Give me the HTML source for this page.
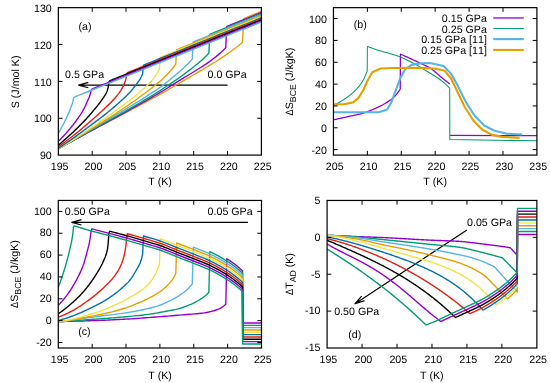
<!DOCTYPE html>
<html><head><meta charset="utf-8"><title>plot</title><style>html,body{margin:0;padding:0;background:#fff}svg{display:block}</style></head><body>
<svg width="550" height="383" viewBox="0 0 550 383" font-family="'Liberation Sans', sans-serif" font-size="10.67" fill="#000" style="font-kerning:none;text-rendering:geometricPrecision">
<rect width="550" height="383" fill="#fff"/>
<defs><clipPath id="ca"><rect x="58.35" y="7.65" width="203.05" height="147.45"/></clipPath><clipPath id="cb"><rect x="333.45" y="7.65" width="203.45" height="147.45"/></clipPath><clipPath id="cc"><rect x="58.30" y="200.45" width="203.20" height="147.55"/></clipPath><clipPath id="cd"><rect x="327.10" y="200.45" width="209.75" height="147.55"/></clipPath></defs>
<path d="M227.56 85.06L78.66 85.06M88.29 87.73L78.66 85.06L88.29 82.39" fill="none" stroke="#000" stroke-width="1.2" stroke-linejoin="round"/>
<g clip-path="url(#ca)">
<polyline points="58.35,148.28 61.47,146.62 64.59,144.97 67.71,143.31 70.83,141.64 73.95,139.98 77.07,138.30 80.19,136.62 83.31,134.93 86.43,133.25 89.55,131.59 92.67,129.94 95.79,128.31 98.91,126.69 102.03,125.07 105.15,123.46 108.28,121.84 111.40,120.21 114.52,118.58 117.64,116.95 120.76,115.31 123.88,113.67 127.00,112.03 130.12,110.37 133.24,108.71 136.36,107.05 139.48,105.38 142.60,103.71 145.72,102.04 148.84,100.39 151.96,98.73 155.08,97.06 158.20,95.36 161.32,93.63 164.44,91.85 167.56,90.02 170.68,88.18 173.80,86.34 176.92,84.52 180.04,82.72 183.16,80.92 186.28,79.12 189.40,77.32 192.52,75.51 195.64,73.70 198.76,71.90 201.88,70.09 205.00,68.25 208.13,66.38 211.25,64.46 214.37,62.50 217.49,60.49 220.61,58.45 223.73,56.36 226.85,54.24 229.97,52.05 233.09,49.79 236.21,47.46 239.33,45.04 242.45,42.53 243.67,18.59 261.40,11.45" fill="none" stroke="#E69F00" stroke-width="1.40" stroke-linejoin="round" />
<polyline points="58.35,148.67 60.78,147.37 63.20,146.06 65.63,144.74 68.05,143.42 70.48,142.10 72.90,140.78 75.33,139.45 77.76,138.11 80.18,136.77 82.61,135.43 85.03,134.09 87.46,132.75 89.89,131.42 92.31,130.10 94.74,128.79 97.16,127.49 99.59,126.20 102.01,124.90 104.44,123.61 106.87,122.30 109.29,120.99 111.72,119.68 114.14,118.36 116.57,117.04 119.00,115.72 121.42,114.39 123.85,113.05 126.27,111.71 128.70,110.37 131.12,109.01 133.55,107.65 135.98,106.27 138.40,104.90 140.83,103.52 143.25,102.14 145.68,100.77 148.10,99.40 150.53,98.02 152.96,96.65 155.38,95.26 157.81,93.86 160.23,92.44 162.66,90.98 165.09,89.49 167.51,87.98 169.94,86.46 172.36,84.94 174.79,83.43 177.21,81.93 179.64,80.44 182.07,78.96 184.49,77.47 186.92,75.99 189.34,74.49 191.77,72.99 194.20,71.49 196.62,70.00 199.05,68.50 201.47,66.98 203.90,65.42 206.32,63.81 208.75,62.12 211.18,60.35 213.60,58.52 216.03,56.63 218.45,54.64 220.88,52.50 223.31,50.15 225.73,47.63 226.75,26.45 227.15,26.28 227.55,26.12 227.95,25.96 228.36,25.80 228.76,25.63 229.16,25.47 229.56,25.31 229.97,25.15 230.37,24.99 230.77,24.82 231.18,24.66 231.58,24.50 231.98,24.34 232.38,24.17 232.79,24.01 233.19,23.85 233.59,23.69 233.99,23.52 234.40,23.36 234.80,23.20 235.20,23.04 235.60,22.88 236.01,22.71 236.41,22.55 236.81,22.39 237.21,22.23 237.62,22.06 238.02,21.90 238.42,21.74 238.83,21.58 239.23,21.42 239.63,21.25 240.03,21.09 240.44,20.93 240.84,20.77 241.24,20.60 241.64,20.44 242.05,20.28 242.45,20.12 242.58,20.08 261.40,12.50" fill="none" stroke="#9400D3" stroke-width="1.40" stroke-linejoin="round" />
<polyline points="58.35,148.77 60.53,147.55 62.71,146.33 64.89,145.10 67.07,143.88 69.25,142.65 71.43,141.42 73.61,140.18 75.79,138.95 77.98,137.70 80.16,136.45 82.34,135.21 84.52,133.96 86.70,132.71 88.88,131.48 91.06,130.25 93.24,129.03 95.42,127.82 97.60,126.61 99.78,125.41 101.96,124.21 104.14,123.01 106.32,121.80 108.50,120.59 110.68,119.38 112.86,118.17 115.05,116.95 117.23,115.74 119.41,114.51 121.59,113.29 123.77,112.05 125.95,110.81 128.13,109.57 130.31,108.32 132.49,107.06 134.67,105.80 136.85,104.53 139.03,103.26 141.21,101.98 143.39,100.70 145.57,99.42 147.75,98.14 149.93,96.85 152.11,95.56 154.30,94.24 156.48,92.90 158.66,91.53 160.84,90.14 163.02,88.71 165.20,87.25 167.38,85.78 169.56,84.31 171.74,82.85 173.92,81.38 176.10,79.91 178.28,78.41 180.46,76.87 182.64,75.28 184.82,73.66 187.00,72.03 189.18,70.38 191.37,68.69 193.55,66.98 195.73,65.22 197.91,63.43 200.09,61.59 202.27,59.68 204.45,57.68 206.63,55.52 208.81,53.19 209.83,34.30 210.66,33.96 211.50,33.62 212.33,33.29 213.17,32.95 214.01,32.61 214.84,32.27 215.68,31.94 216.52,31.60 217.35,31.26 218.19,30.93 219.03,30.59 219.86,30.25 220.70,29.91 221.54,29.58 222.37,29.24 223.21,28.90 224.05,28.57 224.88,28.23 225.72,27.89 226.56,27.55 227.39,27.22 228.23,26.88 229.06,26.54 229.90,26.21 230.74,25.87 231.57,25.53 232.41,25.19 233.25,24.86 234.08,24.52 234.92,24.18 235.76,23.85 236.59,23.51 237.43,23.17 238.27,22.83 239.10,22.50 239.94,22.16 240.78,21.82 241.61,21.49 242.45,21.15 242.58,21.13 261.40,13.55" fill="none" stroke="#009E73" stroke-width="1.40" stroke-linejoin="round" />
<polyline points="58.35,148.87 60.29,147.71 62.23,146.56 64.17,145.40 66.11,144.25 68.05,143.09 69.99,141.93 71.93,140.77 73.87,139.61 75.81,138.45 77.75,137.28 79.69,136.11 81.63,134.94 83.57,133.77 85.51,132.61 87.45,131.45 89.39,130.29 91.33,129.15 93.27,128.01 95.21,126.88 97.16,125.75 99.10,124.63 101.04,123.51 102.98,122.39 104.92,121.28 106.86,120.17 108.80,119.05 110.74,117.93 112.68,116.81 114.62,115.69 116.56,114.57 118.50,113.44 120.44,112.31 122.38,111.17 124.32,110.02 126.26,108.86 128.20,107.70 130.14,106.52 132.08,105.34 134.02,104.15 135.96,102.95 137.90,101.75 139.84,100.54 141.78,99.32 143.72,98.10 145.66,96.88 147.60,95.65 149.54,94.41 151.48,93.17 153.42,91.90 155.36,90.61 157.30,89.29 159.24,87.93 161.18,86.54 163.12,85.10 165.06,83.59 167.00,82.04 168.94,80.47 170.88,78.88 172.83,77.28 174.77,75.66 176.71,74.03 178.65,72.37 180.59,70.69 182.53,68.97 184.47,67.20 186.41,65.36 188.35,63.41 190.29,61.32 192.23,59.12 193.24,42.01 194.50,41.50 195.77,41.00 197.03,40.49 198.29,39.98 199.55,39.47 200.81,38.96 202.07,38.45 203.34,37.94 204.60,37.44 205.86,36.93 207.12,36.42 208.38,35.91 209.64,35.40 210.91,34.89 212.17,34.39 213.43,33.88 214.69,33.37 215.95,32.86 217.21,32.35 218.48,31.84 219.74,31.33 221.00,30.83 222.26,30.32 223.52,29.81 224.79,29.30 226.05,28.79 227.31,28.28 228.57,27.77 229.83,27.27 231.09,26.76 232.36,26.25 233.62,25.74 234.88,25.23 236.14,24.72 237.40,24.22 238.66,23.71 239.93,23.20 241.19,22.69 242.45,22.18 242.58,22.18 261.40,14.60" fill="none" stroke="#56B4E9" stroke-width="1.40" stroke-linejoin="round" />
<polyline points="58.35,148.87 60.05,147.86 61.75,146.84 63.46,145.82 65.16,144.80 66.86,143.77 68.56,142.74 70.26,141.70 71.97,140.67 73.67,139.63 75.37,138.58 77.07,137.53 78.77,136.47 80.47,135.41 82.18,134.35 83.88,133.29 85.58,132.23 87.28,131.17 88.98,130.11 90.69,129.06 92.39,128.01 94.09,126.97 95.79,125.93 97.49,124.89 99.20,123.86 100.90,122.82 102.60,121.78 104.30,120.74 106.00,119.69 107.70,118.63 109.41,117.56 111.11,116.49 112.81,115.41 114.51,114.32 116.21,113.23 117.92,112.12 119.62,111.01 121.32,109.89 123.02,108.76 124.72,107.62 126.43,106.47 128.13,105.30 129.83,104.12 131.53,102.92 133.23,101.71 134.94,100.49 136.64,99.27 138.34,98.03 140.04,96.80 141.74,95.55 143.44,94.30 145.15,93.05 146.85,91.78 148.55,90.49 150.25,89.19 151.95,87.88 153.66,86.54 155.36,85.19 157.06,83.80 158.76,82.38 160.46,80.91 162.17,79.39 163.87,77.79 165.57,76.11 167.27,74.35 168.97,72.53 170.67,70.65 172.38,68.70 174.08,66.53 175.78,63.76 176.66,49.73 178.35,49.05 180.03,48.37 181.72,47.69 183.41,47.01 185.09,46.33 186.78,45.65 188.47,44.97 190.16,44.29 191.84,43.61 193.53,42.93 195.22,42.25 196.90,41.57 198.59,40.89 200.28,40.21 201.96,39.53 203.65,38.85 205.34,38.17 207.02,37.49 208.71,36.81 210.40,36.13 212.08,35.45 213.77,34.77 215.46,34.09 217.15,33.41 218.83,32.73 220.52,32.05 222.21,31.37 223.89,30.69 225.58,30.01 227.27,29.33 228.95,28.65 230.64,27.97 232.33,27.29 234.01,26.61 235.70,25.93 237.39,25.25 239.07,24.57 240.76,23.89 242.45,23.21 242.58,23.23 261.40,15.65" fill="none" stroke="#E69F00" stroke-width="1.40" stroke-linejoin="round" />
<polyline points="58.35,148.77 59.81,147.90 61.28,147.03 62.74,146.14 64.21,145.25 65.67,144.35 67.14,143.45 68.60,142.54 70.07,141.62 71.53,140.69 73.00,139.76 74.46,138.82 75.92,137.87 77.39,136.92 78.85,135.96 80.32,134.99 81.78,134.02 83.25,133.05 84.71,132.07 86.18,131.09 87.64,130.11 89.10,129.13 90.57,128.15 92.03,127.18 93.50,126.20 94.96,125.23 96.43,124.26 97.89,123.29 99.36,122.31 100.82,121.34 102.29,120.35 103.75,119.34 105.21,118.31 106.68,117.28 108.14,116.23 109.61,115.18 111.07,114.12 112.54,113.07 114.00,112.01 115.47,110.94 116.93,109.87 118.39,108.80 119.86,107.71 121.32,106.62 122.79,105.52 124.25,104.41 125.72,103.29 127.18,102.16 128.65,101.02 130.11,99.88 131.58,98.72 133.04,97.55 134.50,96.37 135.97,95.17 137.43,93.96 138.90,92.74 140.36,91.51 141.83,90.27 143.29,89.00 144.76,87.70 146.22,86.34 147.69,84.93 149.15,83.43 150.61,81.85 152.08,80.17 153.54,78.39 155.01,76.46 156.47,74.34 157.94,71.95 159.40,69.05 160.28,57.36 162.39,56.51 164.49,55.66 166.60,54.81 168.71,53.96 170.82,53.12 172.92,52.27 175.03,51.42 177.14,50.57 179.24,49.72 181.35,48.87 183.46,48.02 185.56,47.17 187.67,46.32 189.78,45.47 191.88,44.62 193.99,43.78 196.10,42.93 198.20,42.08 200.31,41.23 202.42,40.38 204.53,39.53 206.63,38.68 208.74,37.83 210.85,36.98 212.95,36.13 215.06,35.28 217.17,34.43 219.27,33.59 221.38,32.74 223.49,31.89 225.59,31.04 227.70,30.19 229.81,29.34 231.91,28.49 234.02,27.64 236.13,26.79 238.23,25.94 240.34,25.09 242.45,24.25 242.58,24.28 261.40,16.70" fill="none" stroke="#F0E442" stroke-width="1.40" stroke-linejoin="round" />
<polyline points="58.35,148.18 59.57,147.40 60.79,146.60 62.01,145.80 63.23,144.99 64.46,144.18 65.68,143.36 66.90,142.53 68.12,141.70 69.34,140.85 70.56,140.01 71.78,139.15 73.00,138.30 74.23,137.43 75.45,136.56 76.67,135.68 77.89,134.79 79.11,133.90 80.33,133.01 81.55,132.11 82.77,131.20 84.00,130.30 85.22,129.39 86.44,128.48 87.66,127.56 88.88,126.65 90.10,125.74 91.32,124.82 92.54,123.91 93.77,123.00 94.99,122.09 96.21,121.18 97.43,120.26 98.65,119.35 99.87,118.44 101.09,117.51 102.31,116.58 103.54,115.63 104.76,114.67 105.98,113.70 107.20,112.71 108.42,111.72 109.64,110.71 110.86,109.70 112.08,108.68 113.31,107.65 114.53,106.61 115.75,105.56 116.97,104.49 118.19,103.41 119.41,102.32 120.63,101.21 121.85,100.09 123.08,98.96 124.30,97.82 125.52,96.67 126.74,95.50 127.96,94.29 129.18,93.04 130.40,91.72 131.62,90.32 132.85,88.83 134.07,87.28 135.29,85.68 136.51,84.06 137.73,82.47 138.95,80.83 140.17,79.00 141.39,76.77 142.62,73.72 143.50,65.16 146.03,64.14 148.57,63.11 151.11,62.09 153.64,61.07 156.18,60.05 158.72,59.02 161.26,58.00 163.79,56.98 166.33,55.96 168.87,54.93 171.41,53.91 173.94,52.89 176.48,51.86 179.02,50.84 181.55,49.82 184.09,48.80 186.63,47.77 189.17,46.75 191.70,45.73 194.24,44.71 196.78,43.68 199.32,42.66 201.85,41.64 204.39,40.62 206.93,39.59 209.46,38.57 212.00,37.55 214.54,36.53 217.08,35.50 219.61,34.48 222.15,33.46 224.69,32.44 227.23,31.41 229.76,30.39 232.30,29.37 234.84,28.35 237.37,27.32 239.91,26.30 242.45,25.28 242.58,25.33 261.40,17.75" fill="none" stroke="#0072B2" stroke-width="1.40" stroke-linejoin="round" />
<polyline points="58.35,146.71 59.34,146.02 60.33,145.32 61.32,144.62 62.31,143.91 63.30,143.19 64.29,142.47 65.29,141.74 66.28,141.01 67.27,140.27 68.26,139.52 69.25,138.78 70.24,138.02 71.23,137.26 72.22,136.50 73.21,135.73 74.20,134.95 75.19,134.16 76.18,133.36 77.17,132.55 78.16,131.74 79.16,130.92 80.15,130.09 81.14,129.26 82.13,128.43 83.12,127.59 84.11,126.74 85.10,125.89 86.09,125.04 87.08,124.19 88.07,123.34 89.06,122.48 90.05,121.63 91.04,120.77 92.03,119.91 93.03,119.04 94.02,118.17 95.01,117.30 96.00,116.42 96.99,115.54 97.98,114.65 98.97,113.75 99.96,112.85 100.95,111.94 101.94,111.02 102.93,110.09 103.92,109.16 104.91,108.22 105.90,107.28 106.90,106.33 107.89,105.38 108.88,104.41 109.87,103.43 110.86,102.42 111.85,101.40 112.84,100.35 113.83,99.27 114.82,98.16 115.81,97.01 116.80,95.83 117.79,94.62 118.78,93.35 119.78,92.00 120.77,90.54 121.76,88.96 122.75,87.22 123.74,85.23 124.73,82.74 125.72,79.63 126.71,74.82 127.39,72.68 130.34,71.49 133.29,70.30 136.24,69.12 139.19,67.93 142.14,66.74 145.09,65.55 148.04,64.36 150.99,63.17 153.94,61.98 156.89,60.79 159.84,59.60 162.79,58.41 165.74,57.23 168.69,56.04 171.64,54.85 174.59,53.66 177.54,52.47 180.49,51.28 183.44,50.09 186.39,48.90 189.34,47.71 192.29,46.52 195.24,45.33 198.19,44.15 201.14,42.96 204.09,41.77 207.05,40.58 210.00,39.39 212.95,38.20 215.90,37.01 218.85,35.82 221.80,34.63 224.75,33.44 227.70,32.26 230.65,31.07 233.60,29.88 236.55,28.69 239.50,27.50 242.45,26.31 242.58,26.38 261.40,18.80" fill="none" stroke="#E51E10" stroke-width="1.40" stroke-linejoin="round" />
<polyline points="58.35,145.18 59.08,144.57 59.82,143.95 60.55,143.33 61.28,142.70 62.01,142.07 62.75,141.43 63.48,140.79 64.21,140.15 64.94,139.50 65.68,138.85 66.41,138.20 67.14,137.54 67.88,136.88 68.61,136.21 69.34,135.54 70.07,134.87 70.81,134.20 71.54,133.52 72.27,132.84 73.00,132.16 73.74,131.47 74.47,130.78 75.20,130.08 75.94,129.38 76.67,128.68 77.40,127.97 78.13,127.25 78.87,126.53 79.60,125.80 80.33,125.06 81.07,124.32 81.80,123.57 82.53,122.82 83.26,122.05 84.00,121.28 84.73,120.50 85.46,119.72 86.19,118.92 86.93,118.12 87.66,117.31 88.39,116.49 89.13,115.66 89.86,114.82 90.59,113.98 91.32,113.13 92.06,112.27 92.79,111.41 93.52,110.53 94.25,109.65 94.99,108.76 95.72,107.87 96.45,106.97 97.19,106.07 97.92,105.16 98.65,104.24 99.38,103.29 100.12,102.33 100.85,101.34 101.58,100.32 102.31,99.27 103.05,98.18 103.78,97.05 104.51,95.92 105.25,94.79 105.98,93.54 106.71,92.06 107.44,90.24 108.18,87.19 108.91,82.19 109.65,80.86 113.06,79.49 116.46,78.12 119.87,76.74 123.27,75.37 126.68,74.00 130.08,72.63 133.49,71.26 136.89,69.88 140.30,68.51 143.70,67.14 147.11,65.77 150.51,64.39 153.92,63.02 157.32,61.65 160.73,60.28 164.13,58.90 167.54,57.53 170.94,56.16 174.35,54.79 177.75,53.42 181.16,52.04 184.56,50.67 187.97,49.30 191.37,47.93 194.78,46.55 198.18,45.18 201.59,43.81 204.99,42.44 208.40,41.07 211.80,39.69 215.21,38.32 218.61,36.95 222.02,35.58 225.42,34.20 228.83,32.83 232.23,31.46 235.64,30.09 239.04,28.71 242.45,27.34 242.58,27.43 261.40,19.85" fill="none" stroke="#000000" stroke-width="1.40" stroke-linejoin="round" />
<polyline points="58.35,141.30 58.82,140.84 59.30,140.38 59.77,139.92 60.25,139.44 60.72,138.97 61.20,138.48 61.67,138.00 62.15,137.50 62.62,137.01 63.10,136.50 63.57,136.00 64.05,135.49 64.52,134.97 65.00,134.45 65.47,133.93 65.95,133.40 66.42,132.87 66.90,132.33 67.37,131.79 67.85,131.24 68.32,130.69 68.79,130.13 69.27,129.56 69.74,128.99 70.22,128.42 70.69,127.84 71.17,127.25 71.64,126.66 72.12,126.06 72.59,125.46 73.07,124.85 73.54,124.23 74.02,123.61 74.49,122.99 74.97,122.36 75.44,121.72 75.92,121.08 76.39,120.43 76.87,119.78 77.34,119.13 77.82,118.47 78.29,117.80 78.76,117.12 79.24,116.43 79.71,115.73 80.19,115.02 80.66,114.29 81.14,113.55 81.61,112.79 82.09,112.01 82.56,111.21 83.04,110.39 83.51,109.54 83.99,108.63 84.46,107.69 84.94,106.71 85.41,105.70 85.89,104.67 86.36,103.62 86.84,102.56 87.31,101.50 87.79,100.46 88.26,99.41 88.73,98.32 89.21,97.14 89.68,95.84 90.16,94.34 90.63,92.50 91.11,90.46 91.92,89.04 95.78,87.49 99.64,85.93 103.50,84.37 107.36,82.82 111.22,81.26 115.08,79.71 118.94,78.15 122.80,76.60 126.66,75.04 130.52,73.49 134.38,71.93 138.24,70.37 142.10,68.82 145.96,67.26 149.82,65.71 153.68,64.15 157.54,62.60 161.40,61.04 165.25,59.49 169.11,57.93 172.97,56.37 176.83,54.82 180.69,53.26 184.55,51.71 188.41,50.15 192.27,48.60 196.13,47.04 199.99,45.49 203.85,43.93 207.71,42.37 211.57,40.82 215.43,39.26 219.29,37.71 223.15,36.15 227.01,34.60 230.87,33.04 234.73,31.49 238.59,29.93 242.45,28.37 242.58,28.49 261.40,20.90" fill="none" stroke="#9400D3" stroke-width="1.40" stroke-linejoin="round" />
<polyline points="58.35,133.29 58.57,132.92 58.79,132.54 59.01,132.16 59.23,131.78 59.45,131.39 59.67,131.01 59.89,130.62 60.11,130.23 60.33,129.83 60.55,129.43 60.77,129.04 60.99,128.64 61.21,128.23 61.43,127.83 61.65,127.42 61.87,127.01 62.09,126.60 62.31,126.18 62.52,125.77 62.74,125.35 62.96,124.93 63.18,124.51 63.40,124.09 63.62,123.66 63.84,123.23 64.06,122.80 64.28,122.37 64.50,121.93 64.72,121.50 64.94,121.05 65.16,120.61 65.38,120.16 65.60,119.71 65.82,119.25 66.04,118.79 66.26,118.33 66.48,117.86 66.70,117.39 66.92,116.91 67.14,116.43 67.36,115.95 67.58,115.46 67.80,114.97 68.02,114.47 68.24,113.97 68.46,113.47 68.68,112.96 68.90,112.45 69.12,111.93 69.34,111.40 69.56,110.87 69.78,110.33 70.00,109.78 70.22,109.23 70.43,108.67 70.65,108.10 70.87,107.53 71.09,106.96 71.31,106.39 71.53,105.81 71.75,105.20 71.97,104.56 72.19,103.89 72.41,103.16 72.63,102.37 72.85,101.46 73.07,100.44 73.29,99.34 73.51,98.19 74.26,97.19 78.57,95.45 82.88,93.72 87.19,91.98 91.51,90.24 95.82,88.50 100.13,86.76 104.44,85.03 108.76,83.29 113.07,81.55 117.38,79.81 121.69,78.07 126.01,76.34 130.32,74.60 134.63,72.86 138.95,71.12 143.26,69.38 147.57,67.64 151.88,65.91 156.20,64.17 160.51,62.43 164.82,60.69 169.13,58.95 173.45,57.22 177.76,55.48 182.07,53.74 186.38,52.00 190.70,50.26 195.01,48.53 199.32,46.79 203.63,45.05 207.95,43.31 212.26,41.57 216.57,39.83 220.89,38.10 225.20,36.36 229.51,34.62 233.82,32.88 238.14,31.14 242.45,29.41 242.58,29.54 261.40,21.95" fill="none" stroke="#56B4E9" stroke-width="1.40" stroke-linejoin="round" />
</g>
<text x="59.65" y="169.65" text-anchor="middle">195</text>
<path d="M92.19 155.10V150.90M92.19 7.65V11.85" stroke="#000" stroke-width="1"/>
<text x="93.49" y="169.65" text-anchor="middle">200</text>
<path d="M126.03 155.10V150.90M126.03 7.65V11.85" stroke="#000" stroke-width="1"/>
<text x="127.33" y="169.65" text-anchor="middle">205</text>
<path d="M159.88 155.10V150.90M159.88 7.65V11.85" stroke="#000" stroke-width="1"/>
<text x="161.18" y="169.65" text-anchor="middle">210</text>
<path d="M193.72 155.10V150.90M193.72 7.65V11.85" stroke="#000" stroke-width="1"/>
<text x="195.02" y="169.65" text-anchor="middle">215</text>
<path d="M227.56 155.10V150.90M227.56 7.65V11.85" stroke="#000" stroke-width="1"/>
<text x="228.86" y="169.65" text-anchor="middle">220</text>
<text x="262.70" y="169.65" text-anchor="middle">225</text>
<text x="51.75" y="159.25" text-anchor="end">90</text>
<path d="M58.35 118.24H62.55M261.40 118.24H257.20" stroke="#000" stroke-width="1"/>
<text x="51.75" y="122.39" text-anchor="end">100</text>
<path d="M58.35 81.38H62.55M261.40 81.38H257.20" stroke="#000" stroke-width="1"/>
<text x="51.75" y="85.53" text-anchor="end">110</text>
<path d="M58.35 44.51H62.55M261.40 44.51H257.20" stroke="#000" stroke-width="1"/>
<text x="51.75" y="48.66" text-anchor="end">120</text>
<text x="51.75" y="11.80" text-anchor="end">130</text>
<rect x="58.35" y="7.65" width="203.05" height="147.45" fill="none" stroke="#000" stroke-width="1.2"/>
<text x="78.5" y="29.9">(a)</text>
<text x="65" y="78.1">0.5 GPa</text>
<text x="207.5" y="78.3">0.0 GPa</text>
<text transform="translate(18.6,81.9) rotate(-90)" text-anchor="middle">S (J/mol K)</text>
<text x="160" y="185.4" text-anchor="middle">T (K)</text>
<g clip-path="url(#cb)">
<polyline points="333.45,119.82 334.30,119.64 335.14,119.47 335.99,119.29 336.83,119.11 337.68,118.93 338.52,118.74 339.37,118.56 340.21,118.38 341.06,118.19 341.91,118.01 342.75,117.82 343.60,117.64 344.44,117.45 345.29,117.26 346.13,117.07 346.98,116.88 347.82,116.69 348.67,116.51 349.52,116.32 350.36,116.14 351.21,115.96 352.05,115.78 352.90,115.60 353.74,115.42 354.59,115.23 355.43,115.05 356.28,114.86 357.13,114.66 357.97,114.46 358.82,114.26 359.66,114.05 360.51,113.83 361.35,113.60 362.20,113.37 363.04,113.12 363.89,112.87 364.74,112.60 365.58,112.32 366.43,112.04 367.27,111.74 368.12,111.43 368.96,111.11 369.81,110.78 370.65,110.44 371.50,110.10 372.35,109.74 373.19,109.38 374.04,109.01 374.88,108.64 375.73,108.25 376.57,107.86 377.42,107.47 378.26,107.07 379.11,106.67 379.96,106.26 380.80,105.84 381.65,105.41 382.49,104.95 383.34,104.47 384.18,103.97 385.03,103.46 385.87,102.94 386.72,102.43 387.57,101.92 388.41,101.40 389.26,100.87 390.10,100.31 390.95,99.72 391.79,99.08 392.64,98.40 393.48,97.65 394.33,96.82 395.18,95.89 396.02,94.89 396.87,93.82 397.71,92.70 398.56,91.53 399.40,90.32 400.25,89.02 400.45,54.18 401.08,54.44 401.70,54.71 402.32,54.98 402.95,55.25 403.57,55.52 404.19,55.79 404.82,56.07 405.44,56.34 406.06,56.62 406.69,56.89 407.31,57.17 407.93,57.45 408.55,57.73 409.18,58.01 409.80,58.29 410.42,58.58 411.05,58.86 411.67,59.15 412.29,59.43 412.92,59.72 413.54,60.01 414.16,60.29 414.79,60.58 415.41,60.87 416.03,61.16 416.66,61.46 417.28,61.75 417.90,62.04 418.53,62.33 419.15,62.63 419.77,62.92 420.40,63.22 421.02,63.52 421.64,63.81 422.27,64.11 422.89,64.41 423.51,64.70 424.14,64.99 424.76,65.28 425.38,65.56 426.01,65.84 426.63,66.14 427.25,66.43 427.87,66.74 428.50,67.07 429.12,67.41 429.74,67.77 430.37,68.16 430.99,68.59 431.61,69.06 432.24,69.55 432.86,70.06 433.48,70.58 434.11,71.10 434.73,71.62 435.35,72.13 435.98,72.66 436.60,73.19 437.22,73.72 437.85,74.26 438.47,74.81 439.09,75.35 439.72,75.89 440.34,76.43 440.96,76.96 441.59,77.48 442.21,78.00 442.83,78.52 443.46,79.04 444.08,79.55 444.70,80.07 445.33,80.58 445.95,81.09 446.57,81.60 447.19,82.10 447.82,82.61 448.44,83.11 449.06,83.61 449.69,84.11" fill="none" stroke="#9400D3" stroke-width="1.30" stroke-linejoin="round" />
<polyline points="450.09,135.33 536.90,135.66" fill="none" stroke="#9400D3" stroke-width="1.30" stroke-linejoin="round" />
<polyline points="333.45,105.40 333.88,105.20 334.31,104.99 334.73,104.77 335.16,104.56 335.59,104.34 336.02,104.11 336.44,103.88 336.87,103.65 337.30,103.42 337.73,103.18 338.15,102.94 338.58,102.70 339.01,102.45 339.44,102.20 339.86,101.95 340.29,101.69 340.72,101.43 341.15,101.17 341.57,100.91 342.00,100.64 342.43,100.38 342.86,100.11 343.28,99.83 343.71,99.56 344.14,99.28 344.57,99.00 344.99,98.72 345.42,98.44 345.85,98.15 346.28,97.85 346.70,97.56 347.13,97.26 347.56,96.95 347.99,96.64 348.41,96.33 348.84,96.01 349.27,95.69 349.70,95.36 350.12,95.02 350.55,94.68 350.98,94.34 351.41,93.98 351.83,93.63 352.26,93.26 352.69,92.89 353.12,92.50 353.54,92.11 353.97,91.72 354.40,91.31 354.83,90.89 355.25,90.47 355.68,90.03 356.11,89.59 356.54,89.13 356.96,88.66 357.39,88.18 357.82,87.69 358.25,87.19 358.67,86.68 359.10,86.15 359.53,85.61 359.96,85.05 360.38,84.48 360.81,83.89 361.24,83.27 361.67,82.63 362.09,81.97 362.52,81.27 362.95,80.55 363.38,79.80 363.80,78.98 364.23,78.09 364.66,77.15 365.09,76.17 365.51,75.16 365.94,74.14 366.37,73.12 366.80,72.08 367.22,71.00 367.36,46.42 368.40,46.81 369.44,47.20 370.48,47.58 371.53,47.96 372.57,48.33 373.61,48.70 374.65,49.07 375.70,49.42 376.74,49.77 377.78,50.11 378.82,50.44 379.86,50.76 380.91,51.07 381.95,51.37 382.99,51.66 384.03,51.96 385.07,52.24 386.12,52.53 387.16,52.82 388.20,53.10 389.24,53.39 390.29,53.69 391.33,53.99 392.37,54.29 393.41,54.61 394.45,54.93 395.50,55.26 396.54,55.61 397.58,55.97 398.62,56.35 399.66,56.74 400.71,57.15 401.75,57.57 402.79,58.01 403.83,58.47 404.88,58.93 405.92,59.41 406.96,59.91 408.00,60.41 409.04,60.93 410.09,61.45 411.13,61.98 412.17,62.53 413.21,63.08 414.25,63.64 415.30,64.20 416.34,64.77 417.38,65.35 418.42,65.95 419.47,66.59 420.51,67.24 421.55,67.92 422.59,68.59 423.63,69.26 424.68,69.92 425.72,70.56 426.76,71.19 427.80,71.81 428.84,72.43 429.89,73.05 430.93,73.67 431.97,74.30 433.01,74.94 434.06,75.59 435.10,76.26 436.14,76.93 437.18,77.61 438.22,78.30 439.27,79.02 440.31,79.77 441.35,80.56 442.39,81.39 443.43,82.25 444.48,83.15 445.52,84.08 446.56,85.05 447.60,86.05 448.65,87.08 449.69,88.15 449.82,139.59 536.90,140.79" fill="none" stroke="#009E73" stroke-width="1.05" stroke-linejoin="round" />
<polyline points="333.45,112.18 378.75,112.18 387.03,109.45 391.50,102.13 396.11,89.35 400.59,77.44 405.34,69.25 411.44,64.88 419.98,63.35 429.75,63.03 443.58,66.08 451.04,73.62 457.22,84.76 465.90,102.13 474.64,115.78 484.55,125.72 494.51,130.74 506.93,133.69 522.32,134.57" fill="none" stroke="#56B4E9" stroke-width="2.10" stroke-linejoin="round" />
<polyline points="333.45,104.31 343.96,104.31 353.12,102.35 358.54,97.87 363.29,90.22 367.77,80.17 372.31,72.31 380.58,68.49 393.13,68.05 419.98,67.83 434.90,68.49 444.67,70.78 451.04,78.43 457.22,91.31 464.74,107.04 473.49,120.80 482.17,129.54 492.14,134.89 502.04,136.86 519.61,137.84" fill="none" stroke="#E69F00" stroke-width="2.10" stroke-linejoin="round" />
</g>
<text x="334.75" y="169.65" text-anchor="middle">205</text>
<path d="M367.36 155.10V150.90M367.36 7.65V11.85" stroke="#000" stroke-width="1"/>
<text x="368.66" y="169.65" text-anchor="middle">210</text>
<path d="M401.27 155.10V150.90M401.27 7.65V11.85" stroke="#000" stroke-width="1"/>
<text x="402.57" y="169.65" text-anchor="middle">215</text>
<path d="M435.17 155.10V150.90M435.17 7.65V11.85" stroke="#000" stroke-width="1"/>
<text x="436.47" y="169.65" text-anchor="middle">220</text>
<path d="M469.08 155.10V150.90M469.08 7.65V11.85" stroke="#000" stroke-width="1"/>
<text x="470.38" y="169.65" text-anchor="middle">225</text>
<path d="M502.99 155.10V150.90M502.99 7.65V11.85" stroke="#000" stroke-width="1"/>
<text x="504.29" y="169.65" text-anchor="middle">230</text>
<text x="538.20" y="169.65" text-anchor="middle">235</text>
<path d="M333.45 149.64H337.65M536.90 149.64H532.70" stroke="#000" stroke-width="1"/>
<text x="326.85" y="153.64" text-anchor="end">-20</text>
<path d="M333.45 127.79H337.65M536.90 127.79H532.70" stroke="#000" stroke-width="1"/>
<text x="326.85" y="131.79" text-anchor="end">0</text>
<path d="M333.45 105.95H337.65M536.90 105.95H532.70" stroke="#000" stroke-width="1"/>
<text x="326.85" y="109.95" text-anchor="end">20</text>
<path d="M333.45 84.11H337.65M536.90 84.11H532.70" stroke="#000" stroke-width="1"/>
<text x="326.85" y="88.11" text-anchor="end">40</text>
<path d="M333.45 62.26H337.65M536.90 62.26H532.70" stroke="#000" stroke-width="1"/>
<text x="326.85" y="66.26" text-anchor="end">60</text>
<path d="M333.45 40.42H337.65M536.90 40.42H532.70" stroke="#000" stroke-width="1"/>
<text x="326.85" y="44.42" text-anchor="end">80</text>
<path d="M333.45 18.57H337.65M536.90 18.57H532.70" stroke="#000" stroke-width="1"/>
<text x="326.85" y="22.57" text-anchor="end">100</text>
<rect x="333.45" y="7.65" width="203.45" height="147.45" fill="none" stroke="#000" stroke-width="1.2"/>
<text x="353.7" y="28.4">(b)</text>
<text x="486.9" y="21.80" text-anchor="end">0.15 GPa</text>
<path d="M493.2 17.95H523.8" stroke="#9400D3" stroke-width="1.30"/>
<text x="486.9" y="32.50" text-anchor="end">0.25 GPa</text>
<path d="M493.2 28.50H523.8" stroke="#009E73" stroke-width="1.05"/>
<text x="486.9" y="43.20" text-anchor="end">0.15 GPa [11]</text>
<path d="M493.2 39.10H523.8" stroke="#56B4E9" stroke-width="2.10"/>
<text x="486.9" y="53.90" text-anchor="end">0.25 GPa [11]</text>
<path d="M493.2 49.95H523.8" stroke="#E69F00" stroke-width="2.10"/>
<text transform="translate(293.45,115.40) rotate(-90)"><tspan textLength="6.1" lengthAdjust="spacingAndGlyphs">Δ</tspan>S<tspan font-size="8.8" dy="3">BCE</tspan><tspan dy="-3" dx="-0.2"> (J/kgK)</tspan></text>
<text x="435.2" y="185.4" text-anchor="middle">T (K)</text>
<path d="M247.95 222.31L71.85 222.31M81.48 224.98L71.85 222.31L81.48 219.64" fill="none" stroke="#000" stroke-width="1.2" stroke-linejoin="round"/>
<g clip-path="url(#cc)">
<polyline points="58.30,321.55 60.73,321.50 63.16,321.45 65.58,321.40 68.01,321.34 70.44,321.28 72.87,321.22 75.29,321.15 77.72,321.08 80.15,321.01 82.58,320.94 85.00,320.86 87.43,320.78 89.86,320.70 92.29,320.62 94.71,320.53 97.14,320.45 99.57,320.36 102.00,320.27 104.42,320.18 106.85,320.08 109.28,319.98 111.71,319.87 114.13,319.76 116.56,319.64 118.99,319.52 121.42,319.40 123.85,319.27 126.27,319.13 128.70,318.99 131.13,318.84 133.56,318.68 135.98,318.51 138.41,318.33 140.84,318.15 143.27,317.97 145.69,317.79 148.12,317.60 150.55,317.42 152.98,317.23 155.40,317.05 157.83,316.86 160.26,316.67 162.69,316.47 165.11,316.27 167.54,316.08 169.97,315.88 172.40,315.68 174.82,315.48 177.25,315.29 179.68,315.09 182.11,314.90 184.54,314.71 186.96,314.52 189.39,314.31 191.82,314.10 194.25,313.90 196.67,313.70 199.10,313.48 201.53,313.22 203.96,312.92 206.38,312.55 208.81,312.04 211.24,311.43 213.67,310.74 216.09,309.99 218.52,309.07 220.95,307.85 223.38,306.23 225.80,304.28 226.82,258.72 227.22,258.97 227.63,259.23 228.03,259.50 228.43,259.76 228.84,260.03 229.24,260.30 229.64,260.57 230.04,260.85 230.45,261.13 230.85,261.41 231.25,261.69 231.66,261.98 232.06,262.27 232.46,262.56 232.86,262.86 233.27,263.15 233.67,263.45 234.07,263.75 234.48,264.06 234.88,264.37 235.28,264.67 235.68,264.98 236.09,265.30 236.49,265.62 236.89,265.94 237.30,266.27 237.70,266.60 238.10,266.93 238.51,267.27 238.91,267.61 239.31,267.96 239.71,268.31 240.12,268.66 240.52,269.02 240.92,269.38 241.33,269.74 241.73,270.10 242.13,270.47 242.53,270.84 242.67,323.00 261.50,323.00" fill="none" stroke="#9400D3" stroke-width="1.40" stroke-linejoin="round" />
<polyline points="58.30,321.77 60.48,321.62 62.66,321.48 64.85,321.33 67.03,321.18 69.21,321.03 71.39,320.88 73.58,320.73 75.76,320.58 77.94,320.42 80.12,320.27 82.30,320.11 84.49,319.96 86.67,319.80 88.85,319.64 91.03,319.48 93.22,319.32 95.40,319.15 97.58,318.99 99.76,318.83 101.94,318.66 104.13,318.50 106.31,318.34 108.49,318.18 110.67,318.01 112.85,317.85 115.04,317.68 117.22,317.50 119.40,317.32 121.58,317.14 123.77,316.95 125.95,316.75 128.13,316.54 130.31,316.34 132.49,316.12 134.68,315.90 136.86,315.67 139.04,315.44 141.22,315.19 143.41,314.94 145.59,314.67 147.77,314.40 149.95,314.11 152.13,313.81 154.32,313.48 156.50,313.11 158.68,312.72 160.86,312.30 163.05,311.87 165.23,311.44 167.41,311.01 169.59,310.60 171.77,310.20 173.96,309.80 176.14,309.35 178.32,308.84 180.50,308.21 182.68,307.47 184.87,306.66 187.05,305.83 189.23,304.95 191.41,304.02 193.60,303.02 195.78,301.93 197.96,300.74 200.14,299.45 202.32,298.02 204.51,296.43 206.69,294.52 208.87,292.26 209.89,251.64 210.72,252.04 211.56,252.44 212.40,252.86 213.24,253.28 214.07,253.71 214.91,254.14 215.75,254.58 216.58,255.03 217.42,255.48 218.26,255.94 219.10,256.41 219.93,256.88 220.77,257.36 221.61,257.85 222.44,258.34 223.28,258.84 224.12,259.34 224.96,259.85 225.79,260.37 226.63,260.89 227.47,261.43 228.30,261.97 229.14,262.53 229.98,263.10 230.82,263.68 231.65,264.27 232.49,264.88 233.33,265.49 234.16,266.12 235.00,266.75 235.84,267.40 236.67,268.06 237.51,268.74 238.35,269.44 239.19,270.15 240.02,270.87 240.86,271.62 241.70,272.37 242.53,273.13 242.67,325.33 261.50,325.33" fill="none" stroke="#009E73" stroke-width="1.40" stroke-linejoin="round" />
<polyline points="58.30,321.99 60.24,321.71 62.18,321.43 64.13,321.15 66.07,320.87 68.01,320.59 69.95,320.32 71.89,320.04 73.83,319.77 75.78,319.50 77.72,319.22 79.66,318.95 81.60,318.68 83.54,318.42 85.48,318.15 87.43,317.88 89.37,317.62 91.31,317.35 93.25,317.09 95.19,316.83 97.13,316.56 99.08,316.30 101.02,316.05 102.96,315.80 104.90,315.55 106.84,315.31 108.78,315.08 110.73,314.85 112.67,314.61 114.61,314.37 116.55,314.13 118.49,313.88 120.43,313.62 122.38,313.35 124.32,313.07 126.26,312.77 128.20,312.46 130.14,312.14 132.08,311.81 134.03,311.46 135.97,311.11 137.91,310.74 139.85,310.35 141.79,309.96 143.73,309.55 145.68,309.12 147.62,308.68 149.56,308.22 151.50,307.74 153.44,307.22 155.38,306.67 157.33,306.07 159.27,305.43 161.21,304.75 163.15,303.98 165.09,303.12 167.03,302.21 168.98,301.24 170.92,300.25 172.86,299.24 174.80,298.17 176.74,297.05 178.68,295.87 180.63,294.61 182.57,293.28 184.51,291.84 186.45,290.23 188.39,288.38 190.33,286.23 192.28,283.84 193.29,247.12 194.56,247.61 195.82,248.11 197.08,248.60 198.34,249.09 199.61,249.58 200.87,250.07 202.13,250.58 203.39,251.09 204.66,251.61 205.92,252.14 207.18,252.69 208.44,253.26 209.71,253.85 210.97,254.45 212.23,255.07 213.49,255.71 214.76,256.36 216.02,257.02 217.28,257.70 218.54,258.40 219.81,259.11 221.07,259.83 222.33,260.57 223.60,261.32 224.86,262.09 226.12,262.87 227.38,263.67 228.65,264.49 229.91,265.35 231.17,266.23 232.43,267.13 233.70,268.06 234.96,269.02 236.22,269.99 237.48,271.01 238.75,272.07 240.01,273.16 241.27,274.28 242.53,275.43 242.67,327.66 261.50,327.66" fill="none" stroke="#56B4E9" stroke-width="1.40" stroke-linejoin="round" />
<polyline points="58.30,321.99 60.00,321.74 61.71,321.49 63.41,321.23 65.11,320.96 66.82,320.69 68.52,320.42 70.22,320.13 71.93,319.85 73.63,319.56 75.33,319.26 77.03,318.96 78.74,318.65 80.44,318.34 82.14,318.03 83.85,317.71 85.55,317.39 87.25,317.06 88.96,316.73 90.66,316.40 92.36,316.07 94.07,315.73 95.77,315.39 97.47,315.05 99.18,314.70 100.88,314.35 102.58,314.00 104.29,313.63 105.99,313.26 107.69,312.88 109.39,312.48 111.10,312.07 112.80,311.65 114.50,311.20 116.21,310.75 117.91,310.28 119.61,309.79 121.32,309.28 123.02,308.76 124.72,308.21 126.43,307.65 128.13,307.05 129.83,306.43 131.54,305.78 133.24,305.11 134.94,304.42 136.64,303.71 138.35,302.99 140.05,302.27 141.75,301.53 143.46,300.77 145.16,299.99 146.86,299.18 148.57,298.33 150.27,297.44 151.97,296.53 153.68,295.59 155.38,294.62 157.08,293.59 158.79,292.50 160.49,291.33 162.19,290.08 163.90,288.69 165.60,287.14 167.30,285.45 169.00,283.62 170.71,281.68 172.41,279.58 174.11,276.97 175.82,273.02 176.70,242.96 178.39,243.62 180.07,244.27 181.76,244.93 183.45,245.58 185.14,246.23 186.83,246.88 188.51,247.53 190.20,248.19 191.89,248.85 193.58,249.52 195.27,250.19 196.96,250.84 198.64,251.50 200.33,252.16 202.02,252.83 203.71,253.51 205.40,254.22 207.08,254.95 208.77,255.71 210.46,256.50 212.15,257.32 213.84,258.18 215.52,259.05 217.21,259.96 218.90,260.89 220.59,261.85 222.28,262.83 223.97,263.84 225.65,264.87 227.34,265.94 229.03,267.05 230.72,268.20 232.41,269.41 234.09,270.66 235.78,271.95 237.47,273.30 239.16,274.71 240.85,276.19 242.53,277.72 242.67,329.99 261.50,329.99" fill="none" stroke="#E69F00" stroke-width="1.40" stroke-linejoin="round" />
<polyline points="58.30,321.77 59.77,321.57 61.23,321.35 62.70,321.11 64.16,320.86 65.63,320.59 67.09,320.31 68.56,320.02 70.02,319.71 71.49,319.39 72.96,319.05 74.42,318.71 75.89,318.35 77.35,317.98 78.82,317.60 80.28,317.21 81.75,316.81 83.22,316.40 84.68,315.99 86.15,315.56 87.61,315.13 89.08,314.69 90.54,314.24 92.01,313.79 93.47,313.33 94.94,312.87 96.41,312.40 97.87,311.93 99.34,311.46 100.80,310.97 102.27,310.45 103.73,309.89 105.20,309.30 106.66,308.69 108.13,308.06 109.60,307.42 111.06,306.77 112.53,306.11 113.99,305.46 115.46,304.80 116.92,304.12 118.39,303.43 119.85,302.73 121.32,302.01 122.79,301.27 124.25,300.52 125.72,299.75 127.18,298.96 128.65,298.15 130.11,297.33 131.58,296.48 133.05,295.62 134.51,294.73 135.98,293.81 137.44,292.87 138.91,291.89 140.37,290.90 141.84,289.87 143.30,288.80 144.77,287.63 146.24,286.36 147.70,284.93 149.17,283.34 150.63,281.55 152.10,279.55 153.56,277.32 155.03,274.77 156.49,271.84 157.96,268.30 159.43,263.62 160.31,238.73 162.41,239.48 164.52,240.28 166.63,241.13 168.74,241.99 170.85,242.87 172.96,243.75 175.07,244.61 177.17,245.44 179.28,246.26 181.39,247.08 183.50,247.89 185.61,248.70 187.72,249.52 189.82,250.34 191.93,251.17 194.04,252.00 196.15,252.82 198.26,253.64 200.37,254.47 202.47,255.30 204.58,256.17 206.69,257.07 208.80,258.01 210.91,259.01 213.02,260.05 215.13,261.14 217.23,262.27 219.34,263.44 221.45,264.64 223.56,265.89 225.67,267.18 227.78,268.51 229.88,269.92 231.99,271.40 234.10,272.96 236.21,274.58 238.32,276.29 240.43,278.12 242.53,280.02 242.67,332.32 261.50,332.32" fill="none" stroke="#F0E442" stroke-width="1.40" stroke-linejoin="round" />
<polyline points="58.30,320.46 59.52,320.15 60.74,319.83 61.97,319.49 63.19,319.13 64.41,318.77 65.63,318.38 66.86,317.99 68.08,317.58 69.30,317.15 70.52,316.72 71.74,316.27 72.97,315.81 74.19,315.34 75.41,314.85 76.63,314.36 77.85,313.86 79.08,313.34 80.30,312.82 81.52,312.28 82.74,311.74 83.97,311.19 85.19,310.63 86.41,310.06 87.63,309.49 88.85,308.91 90.08,308.32 91.30,307.73 92.52,307.13 93.74,306.52 94.96,305.91 96.19,305.30 97.41,304.68 98.63,304.05 99.85,303.43 101.08,302.78 102.30,302.11 103.52,301.40 104.74,300.68 105.96,299.92 107.19,299.14 108.41,298.34 109.63,297.53 110.85,296.69 112.07,295.84 113.30,294.97 114.52,294.08 115.74,293.15 116.96,292.20 118.19,291.22 119.41,290.21 120.63,289.18 121.85,288.11 123.07,287.02 124.30,285.91 125.52,284.79 126.74,283.62 127.96,282.37 129.18,281.03 130.41,279.54 131.63,277.86 132.85,276.00 134.07,274.00 135.30,271.90 136.52,269.75 137.74,267.66 138.96,265.46 140.18,262.85 141.41,259.33 142.63,254.01 143.51,236.02 146.05,236.75 148.59,237.47 151.13,238.19 153.67,238.93 156.20,239.69 158.74,240.50 161.28,241.36 163.82,242.31 166.36,243.31 168.90,244.36 171.44,245.41 173.98,246.46 176.52,247.48 179.06,248.47 181.60,249.45 184.13,250.43 186.67,251.41 189.21,252.39 191.75,253.39 194.29,254.40 196.83,255.38 199.37,256.37 201.91,257.37 204.45,258.41 206.99,259.49 209.53,260.65 212.07,261.87 214.60,263.16 217.14,264.51 219.68,265.92 222.22,267.39 224.76,268.92 227.30,270.50 229.84,272.19 232.38,273.98 234.92,275.87 237.46,277.87 240.00,280.03 242.53,282.31 242.67,334.64 261.50,334.64" fill="none" stroke="#0072B2" stroke-width="1.40" stroke-linejoin="round" />
<polyline points="58.30,317.18 59.29,316.81 60.28,316.43 61.27,316.03 62.27,315.63 63.26,315.20 64.25,314.77 65.24,314.32 66.23,313.86 67.22,313.39 68.21,312.91 69.21,312.42 70.20,311.92 71.19,311.40 72.18,310.88 73.17,310.34 74.16,309.78 75.15,309.21 76.15,308.62 77.14,308.01 78.13,307.39 79.12,306.76 80.11,306.12 81.10,305.46 82.10,304.79 83.09,304.11 84.08,303.42 85.07,302.72 86.06,302.01 87.05,301.30 88.04,300.58 89.04,299.85 90.03,299.12 91.02,298.38 92.01,297.62 93.00,296.86 93.99,296.08 94.98,295.29 95.98,294.48 96.97,293.66 97.96,292.83 98.95,291.98 99.94,291.11 100.93,290.22 101.92,289.32 102.92,288.39 103.91,287.45 104.90,286.51 105.89,285.56 106.88,284.60 107.87,283.62 108.86,282.62 109.86,281.58 110.85,280.50 111.84,279.38 112.83,278.19 113.82,276.94 114.81,275.62 115.80,274.22 116.80,272.75 117.79,271.20 118.78,269.53 119.77,267.69 120.76,265.61 121.75,263.24 122.74,260.54 123.74,257.26 124.73,252.89 125.72,247.13 126.71,237.61 127.39,233.65 130.34,234.48 133.29,235.33 136.25,236.19 139.20,237.05 142.15,237.92 145.10,238.78 148.06,239.61 151.01,240.45 153.96,241.31 156.91,242.21 159.87,243.17 162.82,244.22 165.77,245.37 168.72,246.58 171.68,247.81 174.63,249.02 177.58,250.19 180.53,251.34 183.49,252.47 186.44,253.61 189.39,254.76 192.34,255.92 195.30,257.08 198.25,258.23 201.20,259.39 204.15,260.58 207.10,261.84 210.06,263.19 213.01,264.64 215.96,266.17 218.91,267.79 221.87,269.48 224.82,271.25 227.77,273.10 230.72,275.09 233.68,277.23 236.63,279.50 239.58,281.97 242.53,284.61 242.67,336.97 261.50,336.97" fill="none" stroke="#E51E10" stroke-width="1.40" stroke-linejoin="round" />
<polyline points="58.30,313.79 59.03,313.29 59.77,312.78 60.50,312.26 61.23,311.72 61.97,311.19 62.70,310.64 63.43,310.08 64.17,309.52 64.90,308.94 65.63,308.36 66.37,307.77 67.10,307.18 67.83,306.57 68.57,305.96 69.30,305.34 70.03,304.72 70.77,304.09 71.50,303.45 72.23,302.81 72.97,302.16 73.70,301.50 74.43,300.84 75.17,300.17 75.90,299.48 76.63,298.79 77.37,298.09 78.10,297.37 78.83,296.65 79.57,295.91 80.30,295.15 81.03,294.38 81.77,293.60 82.50,292.80 83.23,291.98 83.97,291.14 84.70,290.29 85.43,289.42 86.16,288.52 86.90,287.61 87.63,286.68 88.36,285.72 89.10,284.75 89.83,283.76 90.56,282.75 91.30,281.72 92.03,280.67 92.76,279.60 93.50,278.51 94.23,277.40 94.96,276.27 95.70,275.14 96.43,273.99 97.16,272.84 97.90,271.66 98.63,270.44 99.36,269.19 100.10,267.89 100.83,266.53 101.56,265.11 102.30,263.61 103.03,262.03 103.76,260.36 104.50,258.69 105.23,257.02 105.96,255.08 106.70,252.64 107.43,249.44 108.16,243.52 108.90,233.24 109.64,231.16 113.05,232.06 116.46,232.96 119.86,233.88 123.27,234.80 126.68,235.74 130.09,236.70 133.49,237.68 136.90,238.67 140.31,239.67 143.72,240.67 147.12,241.65 150.53,242.61 153.94,243.60 157.35,244.64 160.75,245.77 164.16,247.03 167.57,248.40 170.98,249.81 174.38,251.22 177.79,252.57 181.20,253.89 184.61,255.20 188.01,256.52 191.42,257.85 194.83,259.20 198.24,260.52 201.64,261.86 205.05,263.25 208.46,264.74 211.87,266.37 215.27,268.10 218.68,269.95 222.09,271.90 225.50,273.96 228.90,276.14 232.31,278.52 235.72,281.08 239.13,283.87 242.53,286.90 242.67,339.30 261.50,339.30" fill="none" stroke="#000000" stroke-width="1.40" stroke-linejoin="round" />
<polyline points="58.30,305.16 58.78,304.70 59.25,304.23 59.73,303.76 60.20,303.27 60.68,302.76 61.15,302.25 61.63,301.73 62.10,301.19 62.58,300.65 63.05,300.09 63.53,299.52 64.00,298.95 64.48,298.36 64.95,297.77 65.43,297.17 65.90,296.55 66.38,295.93 66.85,295.30 67.33,294.66 67.80,294.00 68.28,293.34 68.75,292.65 69.23,291.96 69.70,291.26 70.18,290.54 70.65,289.81 71.13,289.07 71.60,288.31 72.08,287.55 72.55,286.77 73.03,285.98 73.50,285.18 73.98,284.36 74.45,283.54 74.93,282.70 75.40,281.85 75.88,280.99 76.35,280.12 76.83,279.25 77.30,278.36 77.78,277.46 78.25,276.55 78.73,275.61 79.21,274.65 79.68,273.66 80.16,272.64 80.63,271.60 81.11,270.51 81.58,269.39 82.06,268.23 82.53,267.03 83.01,265.78 83.48,264.44 83.96,263.00 84.43,261.47 84.91,259.86 85.38,258.19 85.86,256.47 86.33,254.70 86.81,252.92 87.28,251.12 87.76,249.37 88.23,247.60 88.71,245.73 89.18,243.68 89.66,241.35 90.13,238.57 90.61,235.03 91.08,231.05 91.90,228.85 95.76,229.88 99.62,230.88 103.48,231.85 107.35,232.85 111.21,233.87 115.07,234.89 118.93,235.92 122.80,236.97 126.66,238.03 130.52,239.12 134.38,240.24 138.25,241.36 142.11,242.50 145.97,243.61 149.83,244.71 153.70,245.82 157.56,247.00 161.42,248.30 165.28,249.76 169.15,251.34 173.01,252.95 176.87,254.50 180.73,256.01 184.60,257.49 188.46,258.99 192.32,260.50 196.18,262.02 200.05,263.52 203.91,265.07 207.77,266.73 211.63,268.55 215.50,270.52 219.36,272.63 223.22,274.87 227.08,277.25 230.95,279.84 234.81,282.67 238.67,285.77 242.53,289.20 242.67,341.63 261.50,341.63" fill="none" stroke="#9400D3" stroke-width="1.40" stroke-linejoin="round" />
<polyline points="58.30,287.34 58.52,286.77 58.74,286.19 58.96,285.61 59.18,285.02 59.40,284.42 59.62,283.82 59.84,283.21 60.06,282.60 60.28,281.98 60.50,281.36 60.72,280.73 60.94,280.10 61.16,279.46 61.38,278.82 61.60,278.17 61.82,277.52 62.04,276.87 62.26,276.21 62.48,275.54 62.70,274.87 62.92,274.20 63.14,273.52 63.36,272.84 63.58,272.15 63.80,271.46 64.02,270.77 64.24,270.06 64.46,269.35 64.68,268.64 64.90,267.91 65.12,267.18 65.34,266.45 65.56,265.70 65.78,264.95 66.00,264.18 66.22,263.41 66.44,262.63 66.66,261.84 66.88,261.04 67.10,260.23 67.32,259.42 67.54,258.59 67.76,257.76 67.98,256.92 68.19,256.07 68.41,255.21 68.63,254.34 68.85,253.46 69.07,252.56 69.29,251.65 69.51,250.72 69.73,249.79 69.95,248.83 70.17,247.86 70.39,246.88 70.61,245.87 70.83,244.87 71.05,243.87 71.27,242.86 71.49,241.82 71.71,240.73 71.93,239.58 72.15,238.33 72.37,236.97 72.59,235.48 72.81,233.72 73.03,231.71 73.25,229.52 73.47,227.23 74.22,225.90 78.53,227.19 82.85,228.51 87.16,229.80 91.48,231.03 95.80,232.19 100.11,233.30 104.43,234.39 108.74,235.51 113.06,236.65 117.38,237.80 121.69,238.96 126.01,240.15 130.32,241.36 134.64,242.61 138.95,243.87 143.27,245.13 147.59,246.37 151.90,247.59 156.22,248.88 160.53,250.28 164.85,251.89 169.17,253.65 173.48,255.44 177.80,257.16 182.11,258.83 186.43,260.49 190.74,262.17 195.06,263.88 199.38,265.55 203.69,267.28 208.01,269.13 212.32,271.18 216.64,273.42 220.96,275.83 225.27,278.41 229.59,281.19 233.90,284.28 238.22,287.69 242.53,291.49 242.67,343.96 261.50,343.96" fill="none" stroke="#009E73" stroke-width="1.40" stroke-linejoin="round" />
</g>
<text x="59.60" y="362.55" text-anchor="middle">195</text>
<path d="M92.17 348.00V343.80M92.17 200.45V204.65" stroke="#000" stroke-width="1"/>
<text x="93.47" y="362.55" text-anchor="middle">200</text>
<path d="M126.03 348.00V343.80M126.03 200.45V204.65" stroke="#000" stroke-width="1"/>
<text x="127.33" y="362.55" text-anchor="middle">205</text>
<path d="M159.90 348.00V343.80M159.90 200.45V204.65" stroke="#000" stroke-width="1"/>
<text x="161.20" y="362.55" text-anchor="middle">210</text>
<path d="M193.77 348.00V343.80M193.77 200.45V204.65" stroke="#000" stroke-width="1"/>
<text x="195.07" y="362.55" text-anchor="middle">215</text>
<path d="M227.63 348.00V343.80M227.63 200.45V204.65" stroke="#000" stroke-width="1"/>
<text x="228.93" y="362.55" text-anchor="middle">220</text>
<text x="262.80" y="362.55" text-anchor="middle">225</text>
<path d="M58.30 342.54H62.50M261.50 342.54H257.30" stroke="#000" stroke-width="1"/>
<text x="51.70" y="345.79" text-anchor="end">-20</text>
<path d="M58.30 320.68H62.50M261.50 320.68H257.30" stroke="#000" stroke-width="1"/>
<text x="51.70" y="323.93" text-anchor="end">0</text>
<path d="M58.30 298.82H62.50M261.50 298.82H257.30" stroke="#000" stroke-width="1"/>
<text x="51.70" y="302.07" text-anchor="end">20</text>
<path d="M58.30 276.96H62.50M261.50 276.96H257.30" stroke="#000" stroke-width="1"/>
<text x="51.70" y="280.21" text-anchor="end">40</text>
<path d="M58.30 255.10H62.50M261.50 255.10H257.30" stroke="#000" stroke-width="1"/>
<text x="51.70" y="258.35" text-anchor="end">60</text>
<path d="M58.30 233.24H62.50M261.50 233.24H257.30" stroke="#000" stroke-width="1"/>
<text x="51.70" y="236.49" text-anchor="end">80</text>
<path d="M58.30 211.38H62.50M261.50 211.38H257.30" stroke="#000" stroke-width="1"/>
<text x="51.70" y="214.63" text-anchor="end">100</text>
<rect x="58.30" y="200.45" width="203.20" height="147.55" fill="none" stroke="#000" stroke-width="1.2"/>
<text x="78.2" y="335.4">(c)</text>
<text x="64.8" y="215.4">0.50 GPa</text>
<text x="207.6" y="215.4">0.05 GPa</text>
<text transform="translate(18.20,307.90) rotate(-90)"><tspan textLength="6.1" lengthAdjust="spacingAndGlyphs">Δ</tspan>S<tspan font-size="8.8" dy="3">BCE</tspan><tspan dy="-3" dx="-0.2"> (J/kgK)</tspan></text>
<text x="160" y="378.7" text-anchor="middle">T (K)</text>
<path d="M466.93 229.96L355.07 303.74M364.58 300.66L355.07 303.74L361.64 296.20" fill="none" stroke="#000" stroke-width="1.2" stroke-linejoin="round"/>
<g clip-path="url(#cd)">
<polyline points="327.10,235.27 327.74,235.30 328.37,235.33 329.01,235.36 329.64,235.39 330.28,235.42 330.92,235.45 331.55,235.48 332.19,235.51 332.82,235.54 333.46,235.57 334.10,235.60 334.73,235.62 335.37,235.65 336.00,235.68 336.64,235.71 337.28,235.74 337.91,235.77 338.55,235.80 339.18,235.83 339.82,235.85 340.46,235.88 341.09,235.91 341.73,235.94 342.36,235.97 343.00,235.99 343.64,236.02 344.27,236.05 344.91,236.08 345.54,236.10 346.18,236.13 346.82,236.16 347.45,236.19 348.09,236.21 348.73,236.24 349.36,236.27 350.00,236.29 350.63,236.32 351.27,236.35 351.91,236.37 352.54,236.40 353.18,236.43 353.81,236.45 354.45,236.48 355.09,236.50 355.72,236.53 356.36,236.55 356.99,236.58 357.63,236.60 358.27,236.63 358.90,236.65 359.54,236.68 360.17,236.70 360.81,236.72 361.45,236.75 362.08,236.77 362.72,236.79 363.35,236.82 363.99,236.84 364.63,236.86 365.26,236.89 365.90,236.91 366.53,236.93 367.17,236.96 367.81,236.98 368.44,237.00 369.08,237.03 369.71,237.05 370.35,237.07 370.99,237.10 371.62,237.12 372.26,237.14 372.89,237.17 373.53,237.19 374.17,237.21 374.80,237.24 375.44,237.26 376.07,237.29 376.71,237.31 377.35,237.34 377.98,237.36 378.62,237.39 379.25,237.42 379.89,237.44 380.53,237.47 381.16,237.50 381.80,237.52 382.43,237.55 383.07,237.58 383.71,237.61 384.34,237.64 384.98,237.67 385.61,237.70 386.25,237.73 386.89,237.76 387.52,237.79 388.16,237.82 388.80,237.85 389.43,237.89 390.07,237.92 390.70,237.95 391.34,237.98 391.98,238.02 392.61,238.05 393.25,238.09 393.88,238.12 394.52,238.15 395.16,238.19 395.79,238.22 396.43,238.26 397.06,238.30 397.70,238.33 398.34,238.37 398.97,238.40 399.61,238.44 400.24,238.48 400.88,238.51 401.52,238.55 402.15,238.59 402.79,238.62 403.42,238.66 404.06,238.70 404.70,238.73 405.33,238.77 405.97,238.81 406.60,238.84 407.24,238.88 407.88,238.92 408.51,238.96 409.15,238.99 409.78,239.03 410.42,239.07 411.06,239.11 411.69,239.14 412.33,239.18 412.96,239.22 413.60,239.25 414.24,239.29 414.87,239.33 415.51,239.36 416.14,239.40 416.78,239.43 417.42,239.47 418.05,239.51 418.69,239.54 419.32,239.58 419.96,239.61 420.60,239.65 421.23,239.68 421.87,239.72 422.50,239.75 423.14,239.78 423.78,239.82 424.41,239.85 425.05,239.88 425.68,239.92 426.32,239.95 426.96,239.98 427.59,240.01 428.23,240.05 428.86,240.08 429.50,240.11 430.14,240.14 430.77,240.17 431.41,240.20 432.05,240.22 432.68,240.25 433.32,240.28 433.95,240.30 434.59,240.33 435.23,240.35 435.86,240.38 436.50,240.40 437.13,240.43 437.77,240.45 438.41,240.47 439.04,240.50 439.68,240.52 440.31,240.54 440.95,240.56 441.59,240.59 442.22,240.61 442.86,240.63 443.49,240.65 444.13,240.67 444.77,240.70 445.40,240.72 446.04,240.74 446.67,240.77 447.31,240.79 447.95,240.81 448.58,240.84 449.22,240.86 449.85,240.89 450.49,240.91 451.13,240.94 451.76,240.97 452.40,241.00 453.03,241.02 453.67,241.05 454.31,241.08 454.94,241.12 455.58,241.15 456.21,241.18 456.85,241.21 457.49,241.25 458.12,241.29 458.76,241.32 459.39,241.36 460.03,241.40 460.67,241.44 461.30,241.49 461.94,241.54 462.57,241.59 463.21,241.65 463.85,241.70 464.48,241.77 465.12,241.83 465.75,241.89 466.39,241.96 467.03,242.03 467.66,242.10 468.30,242.18 468.93,242.25 469.57,242.33 470.21,242.41 470.84,242.49 471.48,242.57 472.12,242.65 472.75,242.73 473.39,242.81 474.02,242.89 474.66,242.97 475.30,243.06 475.93,243.14 476.57,243.22 477.20,243.30 477.84,243.38 478.48,243.46 479.11,243.54 479.75,243.62 480.38,243.69 481.02,243.77 481.66,243.85 482.29,243.92 482.93,244.00 483.56,244.08 484.20,244.15 484.84,244.23 485.47,244.31 486.11,244.39 486.74,244.46 487.38,244.54 488.02,244.62 488.65,244.70 489.29,244.78 489.92,244.86 490.56,244.94 491.20,245.02 491.83,245.10 492.47,245.18 493.10,245.26 493.74,245.35 494.38,245.43 495.01,245.51 495.65,245.59 496.28,245.68 496.92,245.76 497.56,245.85 498.19,245.93 498.83,246.02 499.46,246.10 500.10,246.19 500.74,246.28 501.37,246.36 502.01,246.45 502.64,246.54 503.28,246.63 503.92,246.72 504.55,246.81 505.19,246.91 505.82,247.00 506.46,247.09 507.10,247.19 507.73,247.28 508.37,247.38 509.00,247.47 509.64,247.57 510.28,247.67 510.91,248.37 511.55,249.07 512.19,249.77 512.82,250.48 513.46,251.18 514.09,251.89 514.73,252.59 515.37,253.30 516.00,254.00 516.64,254.71 517.27,255.41 517.48,234.44 536.85,234.44" fill="none" stroke="#9400D3" stroke-width="1.40" stroke-linejoin="round" />
<polyline points="327.10,235.27 327.74,235.29 328.37,235.32 329.01,235.34 329.64,235.37 330.28,235.39 330.92,235.42 331.55,235.45 332.19,235.47 332.82,235.50 333.46,235.53 334.10,235.56 334.73,235.59 335.37,235.62 336.00,235.65 336.64,235.69 337.28,235.72 337.91,235.75 338.55,235.79 339.18,235.82 339.82,235.86 340.46,235.89 341.09,235.93 341.73,235.97 342.36,236.00 343.00,236.04 343.64,236.08 344.27,236.12 344.91,236.16 345.54,236.20 346.18,236.24 346.82,236.28 347.45,236.32 348.09,236.36 348.73,236.40 349.36,236.44 350.00,236.49 350.63,236.53 351.27,236.57 351.91,236.62 352.54,236.66 353.18,236.70 353.81,236.75 354.45,236.79 355.09,236.84 355.72,236.89 356.36,236.94 356.99,236.99 357.63,237.04 358.27,237.09 358.90,237.15 359.54,237.20 360.17,237.26 360.81,237.32 361.45,237.38 362.08,237.44 362.72,237.50 363.35,237.56 363.99,237.62 364.63,237.68 365.26,237.75 365.90,237.81 366.53,237.87 367.17,237.94 367.81,238.00 368.44,238.07 369.08,238.14 369.71,238.20 370.35,238.27 370.99,238.34 371.62,238.40 372.26,238.47 372.89,238.54 373.53,238.61 374.17,238.67 374.80,238.74 375.44,238.81 376.07,238.88 376.71,238.94 377.35,239.01 377.98,239.08 378.62,239.14 379.25,239.21 379.89,239.28 380.53,239.34 381.16,239.41 381.80,239.47 382.43,239.53 383.07,239.60 383.71,239.66 384.34,239.72 384.98,239.78 385.61,239.85 386.25,239.91 386.89,239.97 387.52,240.04 388.16,240.10 388.80,240.16 389.43,240.23 390.07,240.29 390.70,240.35 391.34,240.42 391.98,240.48 392.61,240.55 393.25,240.61 393.88,240.67 394.52,240.74 395.16,240.80 395.79,240.86 396.43,240.93 397.06,240.99 397.70,241.06 398.34,241.12 398.97,241.18 399.61,241.25 400.24,241.31 400.88,241.37 401.52,241.44 402.15,241.50 402.79,241.57 403.42,241.63 404.06,241.70 404.70,241.76 405.33,241.82 405.97,241.89 406.60,241.95 407.24,242.02 407.88,242.08 408.51,242.15 409.15,242.21 409.78,242.27 410.42,242.34 411.06,242.40 411.69,242.47 412.33,242.53 412.96,242.60 413.60,242.66 414.24,242.72 414.87,242.79 415.51,242.85 416.14,242.92 416.78,242.98 417.42,243.05 418.05,243.11 418.69,243.18 419.32,243.24 419.96,243.31 420.60,243.37 421.23,243.43 421.87,243.50 422.50,243.56 423.14,243.63 423.78,243.69 424.41,243.76 425.05,243.82 425.68,243.89 426.32,243.95 426.96,244.01 427.59,244.08 428.23,244.14 428.86,244.21 429.50,244.27 430.14,244.34 430.77,244.40 431.41,244.46 432.05,244.53 432.68,244.59 433.32,244.65 433.95,244.71 434.59,244.77 435.23,244.82 435.86,244.88 436.50,244.94 437.13,245.00 437.77,245.05 438.41,245.11 439.04,245.16 439.68,245.22 440.31,245.28 440.95,245.33 441.59,245.39 442.22,245.44 442.86,245.50 443.49,245.56 444.13,245.61 444.77,245.67 445.40,245.73 446.04,245.79 446.67,245.85 447.31,245.91 447.95,245.97 448.58,246.03 449.22,246.10 449.85,246.16 450.49,246.22 451.13,246.29 451.76,246.36 452.40,246.43 453.03,246.50 453.67,246.57 454.31,246.64 454.94,246.72 455.58,246.79 456.21,246.87 456.85,246.95 457.49,247.03 458.12,247.12 458.76,247.20 459.39,247.29 460.03,247.38 460.67,247.48 461.30,247.58 461.94,247.68 462.57,247.80 463.21,247.91 463.85,248.03 464.48,248.16 465.12,248.28 465.75,248.42 466.39,248.55 467.03,248.69 467.66,248.83 468.30,248.98 468.93,249.13 469.57,249.28 470.21,249.43 470.84,249.58 471.48,249.74 472.12,249.90 472.75,250.06 473.39,250.22 474.02,250.38 474.66,250.54 475.30,250.70 475.93,250.86 476.57,251.02 477.20,251.18 477.84,251.34 478.48,251.50 479.11,251.66 479.75,251.81 480.38,251.97 481.02,252.12 481.66,252.28 482.29,252.44 482.93,252.60 483.56,252.76 484.20,252.92 484.84,253.08 485.47,253.25 486.11,253.41 486.74,253.58 487.38,253.75 488.02,253.92 488.65,254.08 489.29,254.25 489.92,254.42 490.56,254.59 491.20,254.76 491.83,254.93 492.47,255.10 493.10,255.27 493.74,255.44 494.38,255.61 495.01,255.79 495.65,255.96 496.28,256.13 496.92,256.31 497.56,256.48 498.19,256.66 498.83,256.83 499.46,257.01 500.10,257.19 500.74,257.37 501.37,257.54 502.01,257.72 502.64,258.05 503.28,258.70 503.92,259.36 504.55,260.01 505.19,260.67 505.82,261.32 506.46,261.98 507.10,262.63 507.73,263.29 508.37,263.94 509.00,264.60 509.64,265.25 510.28,265.91 510.91,266.57 511.55,267.22 512.19,267.88 512.82,268.53 513.46,269.19 514.09,269.84 514.73,270.50 515.37,271.15 516.00,271.81 516.64,272.46 517.27,273.12 517.48,231.55 536.85,231.55" fill="none" stroke="#009E73" stroke-width="1.40" stroke-linejoin="round" />
<polyline points="327.10,235.27 327.74,235.30 328.37,235.33 329.01,235.36 329.64,235.39 330.28,235.42 330.92,235.45 331.55,235.49 332.19,235.52 332.82,235.56 333.46,235.60 334.10,235.64 334.73,235.68 335.37,235.72 336.00,235.77 336.64,235.81 337.28,235.86 337.91,235.90 338.55,235.95 339.18,236.00 339.82,236.05 340.46,236.10 341.09,236.15 341.73,236.20 342.36,236.26 343.00,236.31 343.64,236.36 344.27,236.42 344.91,236.48 345.54,236.53 346.18,236.59 346.82,236.65 347.45,236.71 348.09,236.77 348.73,236.83 349.36,236.89 350.00,236.96 350.63,237.02 351.27,237.08 351.91,237.14 352.54,237.21 353.18,237.27 353.81,237.34 354.45,237.40 355.09,237.47 355.72,237.55 356.36,237.62 356.99,237.70 357.63,237.78 358.27,237.86 358.90,237.94 359.54,238.03 360.17,238.12 360.81,238.21 361.45,238.30 362.08,238.39 362.72,238.49 363.35,238.58 363.99,238.68 364.63,238.78 365.26,238.88 365.90,238.99 366.53,239.09 367.17,239.19 367.81,239.30 368.44,239.40 369.08,239.51 369.71,239.62 370.35,239.72 370.99,239.83 371.62,239.94 372.26,240.05 372.89,240.16 373.53,240.27 374.17,240.37 374.80,240.48 375.44,240.59 376.07,240.70 376.71,240.81 377.35,240.91 377.98,241.02 378.62,241.12 379.25,241.23 379.89,241.33 380.53,241.44 381.16,241.54 381.80,241.64 382.43,241.74 383.07,241.83 383.71,241.93 384.34,242.03 384.98,242.13 385.61,242.22 386.25,242.32 386.89,242.42 387.52,242.51 388.16,242.61 388.80,242.71 389.43,242.80 390.07,242.90 390.70,242.99 391.34,243.09 391.98,243.18 392.61,243.28 393.25,243.37 393.88,243.47 394.52,243.56 395.16,243.66 395.79,243.75 396.43,243.85 397.06,243.94 397.70,244.04 398.34,244.13 398.97,244.22 399.61,244.32 400.24,244.41 400.88,244.51 401.52,244.60 402.15,244.70 402.79,244.79 403.42,244.89 404.06,244.98 404.70,245.08 405.33,245.17 405.97,245.27 406.60,245.36 407.24,245.46 407.88,245.56 408.51,245.65 409.15,245.75 409.78,245.85 410.42,245.94 411.06,246.04 411.69,246.14 412.33,246.23 412.96,246.33 413.60,246.43 414.24,246.53 414.87,246.63 415.51,246.73 416.14,246.83 416.78,246.93 417.42,247.03 418.05,247.13 418.69,247.23 419.32,247.33 419.96,247.43 420.60,247.53 421.23,247.64 421.87,247.74 422.50,247.84 423.14,247.95 423.78,248.05 424.41,248.16 425.05,248.26 425.68,248.37 426.32,248.47 426.96,248.58 427.59,248.69 428.23,248.80 428.86,248.91 429.50,249.02 430.14,249.13 430.77,249.24 431.41,249.35 432.05,249.46 432.68,249.57 433.32,249.68 433.95,249.80 434.59,249.91 435.23,250.02 435.86,250.14 436.50,250.25 437.13,250.37 437.77,250.49 438.41,250.60 439.04,250.72 439.68,250.84 440.31,250.96 440.95,251.08 441.59,251.20 442.22,251.32 442.86,251.44 443.49,251.56 444.13,251.68 444.77,251.80 445.40,251.92 446.04,252.05 446.67,252.17 447.31,252.30 447.95,252.42 448.58,252.55 449.22,252.67 449.85,252.80 450.49,252.93 451.13,253.06 451.76,253.19 452.40,253.31 453.03,253.44 453.67,253.58 454.31,253.71 454.94,253.84 455.58,253.97 456.21,254.10 456.85,254.24 457.49,254.37 458.12,254.51 458.76,254.64 459.39,254.78 460.03,254.92 460.67,255.05 461.30,255.19 461.94,255.33 462.57,255.47 463.21,255.61 463.85,255.75 464.48,255.89 465.12,256.04 465.75,256.19 466.39,256.34 467.03,256.49 467.66,256.65 468.30,256.81 468.93,256.97 469.57,257.14 470.21,257.31 470.84,257.49 471.48,257.67 472.12,257.85 472.75,258.04 473.39,258.23 474.02,258.43 474.66,258.63 475.30,258.84 475.93,259.04 476.57,259.26 477.20,259.47 477.84,259.69 478.48,259.92 479.11,260.15 479.75,260.38 480.38,260.61 481.02,260.85 481.66,261.10 482.29,261.34 482.93,261.60 483.56,261.85 484.20,262.12 484.84,262.38 485.47,262.65 486.11,262.93 486.74,263.20 487.38,263.49 488.02,263.77 488.65,264.06 489.29,264.36 489.92,264.66 490.56,264.96 491.20,265.27 491.83,265.58 492.47,265.90 493.10,266.22 493.74,266.54 494.38,266.87 495.01,267.43 495.65,268.13 496.28,268.84 496.92,269.55 497.56,270.25 498.19,270.96 498.83,271.66 499.46,272.37 500.10,273.07 500.74,273.78 501.37,274.48 502.01,275.19 502.64,275.89 503.28,276.60 503.92,277.30 504.55,278.01 505.19,278.71 505.82,279.42 506.46,280.12 507.10,280.83 507.73,281.52 508.37,282.22 509.00,282.91 509.64,283.60 510.28,284.30 510.91,284.99 511.55,285.69 512.19,286.38 512.82,287.07 513.46,287.77 514.09,288.46 514.73,289.16 515.37,289.85 516.00,290.54 516.64,291.24 517.27,291.93 517.48,228.65 536.85,228.65" fill="none" stroke="#56B4E9" stroke-width="1.40" stroke-linejoin="round" />
<polyline points="327.10,235.27 327.74,235.31 328.37,235.36 329.01,235.40 329.64,235.45 330.28,235.50 330.92,235.55 331.55,235.61 332.19,235.66 332.82,235.72 333.46,235.78 334.10,235.84 334.73,235.91 335.37,235.97 336.00,236.04 336.64,236.11 337.28,236.18 337.91,236.25 338.55,236.32 339.18,236.40 339.82,236.48 340.46,236.55 341.09,236.63 341.73,236.71 342.36,236.80 343.00,236.88 343.64,236.96 344.27,237.05 344.91,237.14 345.54,237.23 346.18,237.31 346.82,237.40 347.45,237.49 348.09,237.59 348.73,237.68 349.36,237.77 350.00,237.87 350.63,237.96 351.27,238.06 351.91,238.15 352.54,238.25 353.18,238.35 353.81,238.44 354.45,238.55 355.09,238.65 355.72,238.76 356.36,238.88 356.99,238.99 357.63,239.11 358.27,239.24 358.90,239.37 359.54,239.50 360.17,239.63 360.81,239.76 361.45,239.90 362.08,240.04 362.72,240.17 363.35,240.31 363.99,240.45 364.63,240.59 365.26,240.73 365.90,240.86 366.53,241.00 367.17,241.14 367.81,241.28 368.44,241.42 369.08,241.57 369.71,241.71 370.35,241.86 370.99,242.01 371.62,242.16 372.26,242.31 372.89,242.46 373.53,242.61 374.17,242.76 374.80,242.91 375.44,243.06 376.07,243.21 376.71,243.36 377.35,243.51 377.98,243.66 378.62,243.81 379.25,243.96 379.89,244.11 380.53,244.25 381.16,244.39 381.80,244.54 382.43,244.68 383.07,244.81 383.71,244.95 384.34,245.09 384.98,245.22 385.61,245.35 386.25,245.49 386.89,245.62 387.52,245.75 388.16,245.88 388.80,246.01 389.43,246.13 390.07,246.26 390.70,246.39 391.34,246.52 391.98,246.64 392.61,246.77 393.25,246.90 393.88,247.02 394.52,247.15 395.16,247.27 395.79,247.40 396.43,247.53 397.06,247.65 397.70,247.78 398.34,247.91 398.97,248.03 399.61,248.16 400.24,248.29 400.88,248.42 401.52,248.55 402.15,248.68 402.79,248.81 403.42,248.94 404.06,249.07 404.70,249.21 405.33,249.34 405.97,249.48 406.60,249.62 407.24,249.76 407.88,249.89 408.51,250.03 409.15,250.17 409.78,250.31 410.42,250.45 411.06,250.59 411.69,250.73 412.33,250.87 412.96,251.01 413.60,251.16 414.24,251.30 414.87,251.44 415.51,251.58 416.14,251.73 416.78,251.87 417.42,252.02 418.05,252.16 418.69,252.31 419.32,252.45 419.96,252.60 420.60,252.75 421.23,252.90 421.87,253.04 422.50,253.19 423.14,253.34 423.78,253.49 424.41,253.64 425.05,253.80 425.68,253.95 426.32,254.10 426.96,254.25 427.59,254.41 428.23,254.56 428.86,254.72 429.50,254.88 430.14,255.03 430.77,255.19 431.41,255.35 432.05,255.50 432.68,255.66 433.32,255.81 433.95,255.97 434.59,256.12 435.23,256.28 435.86,256.43 436.50,256.59 437.13,256.74 437.77,256.90 438.41,257.06 439.04,257.21 439.68,257.37 440.31,257.53 440.95,257.69 441.59,257.84 442.22,258.00 442.86,258.16 443.49,258.33 444.13,258.49 444.77,258.65 445.40,258.82 446.04,258.98 446.67,259.15 447.31,259.32 447.95,259.49 448.58,259.66 449.22,259.84 449.85,260.01 450.49,260.19 451.13,260.37 451.76,260.55 452.40,260.73 453.03,260.92 453.67,261.10 454.31,261.29 454.94,261.49 455.58,261.68 456.21,261.88 456.85,262.08 457.49,262.28 458.12,262.48 458.76,262.69 459.39,262.90 460.03,263.12 460.67,263.33 461.30,263.56 461.94,263.80 462.57,264.04 463.21,264.28 463.85,264.54 464.48,264.79 465.12,265.06 465.75,265.33 466.39,265.60 467.03,265.88 467.66,266.16 468.30,266.44 468.93,266.73 469.57,267.02 470.21,267.31 470.84,267.60 471.48,267.91 472.12,268.21 472.75,268.53 473.39,268.85 474.02,269.18 474.66,269.51 475.30,269.85 475.93,270.20 476.57,270.56 477.20,270.93 477.84,271.30 478.48,271.68 479.11,272.07 479.75,272.46 480.38,272.87 481.02,273.28 481.66,273.69 482.29,274.12 482.93,274.55 483.56,274.99 484.20,275.44 484.84,275.89 485.47,276.35 486.11,276.82 486.74,277.48 487.38,278.14 488.02,278.79 488.65,279.45 489.29,280.10 489.92,280.76 490.56,281.41 491.20,282.07 491.83,282.73 492.47,283.38 493.10,284.04 493.74,284.69 494.38,285.35 495.01,286.00 495.65,286.66 496.28,287.31 496.92,287.97 497.56,288.63 498.19,289.28 498.83,289.94 499.46,290.59 500.10,291.25 500.74,291.90 501.37,292.56 502.01,293.22 502.64,293.87 503.28,294.53 503.92,295.18 504.55,295.84 505.19,296.49 505.82,297.15 506.46,297.80 507.10,298.46 507.73,298.71 508.37,298.15 509.00,297.58 509.64,297.01 510.28,296.43 510.91,295.84 511.55,295.24 512.19,294.63 512.82,294.01 513.46,293.38 514.09,292.73 514.73,292.08 515.37,291.42 516.00,290.75 516.64,290.07 517.27,289.38 517.48,225.75 536.85,225.75" fill="none" stroke="#E69F00" stroke-width="1.40" stroke-linejoin="round" />
<polyline points="327.10,235.27 327.74,235.33 328.37,235.40 329.01,235.47 329.64,235.55 330.28,235.62 330.92,235.70 331.55,235.79 332.19,235.87 332.82,235.97 333.46,236.06 334.10,236.15 334.73,236.25 335.37,236.36 336.00,236.46 336.64,236.57 337.28,236.68 337.91,236.79 338.55,236.91 339.18,237.02 339.82,237.14 340.46,237.27 341.09,237.39 341.73,237.52 342.36,237.65 343.00,237.78 343.64,237.91 344.27,238.05 344.91,238.18 345.54,238.32 346.18,238.46 346.82,238.61 347.45,238.75 348.09,238.90 348.73,239.04 349.36,239.19 350.00,239.34 350.63,239.49 351.27,239.65 351.91,239.80 352.54,239.96 353.18,240.12 353.81,240.27 354.45,240.43 355.09,240.59 355.72,240.76 356.36,240.92 356.99,241.08 357.63,241.25 358.27,241.41 358.90,241.58 359.54,241.75 360.17,241.92 360.81,242.09 361.45,242.25 362.08,242.43 362.72,242.60 363.35,242.77 363.99,242.94 364.63,243.11 365.26,243.29 365.90,243.46 366.53,243.63 367.17,243.81 367.81,243.99 368.44,244.16 369.08,244.34 369.71,244.51 370.35,244.69 370.99,244.87 371.62,245.04 372.26,245.22 372.89,245.40 373.53,245.58 374.17,245.75 374.80,245.93 375.44,246.11 376.07,246.29 376.71,246.47 377.35,246.65 377.98,246.82 378.62,247.00 379.25,247.18 379.89,247.36 380.53,247.54 381.16,247.72 381.80,247.90 382.43,248.08 383.07,248.25 383.71,248.43 384.34,248.61 384.98,248.79 385.61,248.97 386.25,249.15 386.89,249.33 387.52,249.50 388.16,249.68 388.80,249.86 389.43,250.04 390.07,250.22 390.70,250.40 391.34,250.57 391.98,250.75 392.61,250.93 393.25,251.11 393.88,251.28 394.52,251.46 395.16,251.64 395.79,251.82 396.43,251.99 397.06,252.17 397.70,252.35 398.34,252.53 398.97,252.70 399.61,252.88 400.24,253.06 400.88,253.24 401.52,253.41 402.15,253.59 402.79,253.77 403.42,253.95 404.06,254.12 404.70,254.30 405.33,254.48 405.97,254.66 406.60,254.84 407.24,255.02 407.88,255.19 408.51,255.37 409.15,255.55 409.78,255.73 410.42,255.91 411.06,256.09 411.69,256.27 412.33,256.45 412.96,256.64 413.60,256.82 414.24,257.00 414.87,257.18 415.51,257.37 416.14,257.55 416.78,257.74 417.42,257.92 418.05,258.11 418.69,258.29 419.32,258.48 419.96,258.67 420.60,258.86 421.23,259.05 421.87,259.24 422.50,259.43 423.14,259.62 423.78,259.82 424.41,260.01 425.05,260.21 425.68,260.41 426.32,260.60 426.96,260.80 427.59,261.00 428.23,261.21 428.86,261.41 429.50,261.61 430.14,261.82 430.77,262.03 431.41,262.24 432.05,262.45 432.68,262.66 433.32,262.88 433.95,263.09 434.59,263.31 435.23,263.53 435.86,263.75 436.50,263.98 437.13,264.20 437.77,264.43 438.41,264.66 439.04,264.89 439.68,265.13 440.31,265.37 440.95,265.61 441.59,265.85 442.22,266.09 442.86,266.34 443.49,266.59 444.13,266.84 444.77,267.10 445.40,267.36 446.04,267.62 446.67,267.88 447.31,268.15 447.95,268.42 448.58,268.69 449.22,268.97 449.85,269.25 450.49,269.53 451.13,269.82 451.76,270.11 452.40,270.41 453.03,270.71 453.67,271.01 454.31,271.31 454.94,271.62 455.58,271.94 456.21,272.26 456.85,272.58 457.49,272.91 458.12,273.24 458.76,273.57 459.39,273.91 460.03,274.26 460.67,274.61 461.30,274.96 461.94,275.32 462.57,275.69 463.21,276.06 463.85,276.43 464.48,276.81 465.12,277.20 465.75,277.59 466.39,277.99 467.03,278.39 467.66,278.80 468.30,279.21 468.93,279.63 469.57,280.05 470.21,280.49 470.84,280.92 471.48,281.37 472.12,281.82 472.75,282.28 473.39,282.74 474.02,283.21 474.66,283.69 475.30,284.17 475.93,284.67 476.57,285.16 477.20,285.67 477.84,286.18 478.48,286.70 479.11,287.23 479.75,287.77 480.38,288.31 481.02,288.86 481.66,289.42 482.29,289.99 482.93,290.57 483.56,291.15 484.20,291.75 484.84,292.35 485.47,292.96 486.11,293.58 486.74,294.21 487.38,294.84 488.02,295.49 488.65,296.15 489.29,296.81 489.92,297.49 490.56,298.17 491.20,298.87 491.83,299.57 492.47,300.29 493.10,301.01 493.74,301.75 494.38,302.49 495.01,303.25 495.65,304.01 496.28,304.70 496.92,304.26 497.56,303.81 498.19,303.36 498.83,302.91 499.46,302.45 500.10,301.98 500.74,301.52 501.37,301.04 502.01,300.56 502.64,300.07 503.28,299.57 503.92,299.06 504.55,298.55 505.19,298.03 505.82,297.50 506.46,296.96 507.10,296.42 507.73,295.86 508.37,295.31 509.00,294.74 509.64,294.17 510.28,293.59 510.91,293.00 511.55,292.40 512.19,291.79 512.82,291.17 513.46,290.54 514.09,289.89 514.73,289.24 515.37,288.58 516.00,287.91 516.64,287.23 517.27,286.54 517.48,222.86 536.85,222.86" fill="none" stroke="#F0E442" stroke-width="1.40" stroke-linejoin="round" />
<polyline points="327.10,237.04 327.74,237.15 328.37,237.27 329.01,237.38 329.64,237.50 330.28,237.62 330.92,237.74 331.55,237.87 332.19,237.99 332.82,238.12 333.46,238.25 334.10,238.39 334.73,238.52 335.37,238.66 336.00,238.80 336.64,238.94 337.28,239.08 337.91,239.22 338.55,239.37 339.18,239.51 339.82,239.66 340.46,239.81 341.09,239.96 341.73,240.11 342.36,240.27 343.00,240.42 343.64,240.58 344.27,240.74 344.91,240.90 345.54,241.06 346.18,241.22 346.82,241.39 347.45,241.55 348.09,241.72 348.73,241.89 349.36,242.06 350.00,242.23 350.63,242.40 351.27,242.57 351.91,242.74 352.54,242.92 353.18,243.09 353.81,243.27 354.45,243.45 355.09,243.62 355.72,243.80 356.36,243.98 356.99,244.16 357.63,244.34 358.27,244.53 358.90,244.71 359.54,244.90 360.17,245.08 360.81,245.27 361.45,245.45 362.08,245.64 362.72,245.83 363.35,246.02 363.99,246.21 364.63,246.40 365.26,246.59 365.90,246.78 366.53,246.97 367.17,247.17 367.81,247.36 368.44,247.56 369.08,247.75 369.71,247.95 370.35,248.14 370.99,248.34 371.62,248.54 372.26,248.74 372.89,248.94 373.53,249.14 374.17,249.34 374.80,249.54 375.44,249.74 376.07,249.94 376.71,250.14 377.35,250.35 377.98,250.55 378.62,250.76 379.25,250.96 379.89,251.17 380.53,251.37 381.16,251.58 381.80,251.79 382.43,252.00 383.07,252.20 383.71,252.41 384.34,252.62 384.98,252.83 385.61,253.05 386.25,253.26 386.89,253.47 387.52,253.68 388.16,253.90 388.80,254.11 389.43,254.33 390.07,254.54 390.70,254.76 391.34,254.98 391.98,255.20 392.61,255.42 393.25,255.64 393.88,255.86 394.52,256.08 395.16,256.30 395.79,256.52 396.43,256.75 397.06,256.97 397.70,257.20 398.34,257.42 398.97,257.65 399.61,257.88 400.24,258.11 400.88,258.34 401.52,258.57 402.15,258.80 402.79,259.03 403.42,259.27 404.06,259.50 404.70,259.74 405.33,259.98 405.97,260.22 406.60,260.46 407.24,260.70 407.88,260.94 408.51,261.18 409.15,261.43 409.78,261.67 410.42,261.92 411.06,262.17 411.69,262.42 412.33,262.67 412.96,262.92 413.60,263.18 414.24,263.43 414.87,263.69 415.51,263.95 416.14,264.21 416.78,264.47 417.42,264.74 418.05,265.00 418.69,265.27 419.32,265.54 419.96,265.81 420.60,266.08 421.23,266.36 421.87,266.63 422.50,266.91 423.14,267.19 423.78,267.48 424.41,267.76 425.05,268.05 425.68,268.34 426.32,268.63 426.96,268.92 427.59,269.22 428.23,269.52 428.86,269.82 429.50,270.12 430.14,270.42 430.77,270.73 431.41,271.04 432.05,271.36 432.68,271.67 433.32,271.99 433.95,272.31 434.59,272.64 435.23,272.96 435.86,273.29 436.50,273.63 437.13,273.96 437.77,274.30 438.41,274.64 439.04,274.99 439.68,275.34 440.31,275.69 440.95,276.04 441.59,276.40 442.22,276.76 442.86,277.13 443.49,277.50 444.13,277.87 444.77,278.25 445.40,278.63 446.04,279.01 446.67,279.40 447.31,279.79 447.95,280.18 448.58,280.58 449.22,280.99 449.85,281.39 450.49,281.81 451.13,282.22 451.76,282.64 452.40,283.07 453.03,283.50 453.67,283.93 454.31,284.37 454.94,284.81 455.58,285.26 456.21,285.72 456.85,286.17 457.49,286.64 458.12,287.10 458.76,287.58 459.39,288.05 460.03,288.54 460.67,289.03 461.30,289.52 461.94,290.02 462.57,290.53 463.21,291.04 463.85,291.55 464.48,292.07 465.12,292.60 465.75,293.14 466.39,293.68 467.03,294.22 467.66,294.77 468.30,295.33 468.93,295.90 469.57,296.47 470.21,297.04 470.84,297.63 471.48,298.22 472.12,298.82 472.75,299.42 473.39,300.03 474.02,300.65 474.66,301.27 475.30,301.90 475.93,302.54 476.57,303.19 477.20,303.84 477.84,304.51 478.48,305.17 479.11,305.85 479.75,306.54 480.38,307.23 481.02,307.93 481.66,308.64 482.29,309.35 482.93,310.08 483.56,309.85 484.20,309.49 484.84,309.13 485.47,308.76 486.11,308.39 486.74,308.02 487.38,307.64 488.02,307.25 488.65,306.87 489.29,306.47 489.92,306.07 490.56,305.67 491.20,305.27 491.83,304.86 492.47,304.44 493.10,304.02 493.74,303.60 494.38,303.17 495.01,302.74 495.65,302.30 496.28,301.86 496.92,301.42 497.56,300.97 498.19,300.52 498.83,300.07 499.46,299.61 500.10,299.14 500.74,298.68 501.37,298.20 502.01,297.72 502.64,297.23 503.28,296.73 503.92,296.22 504.55,295.71 505.19,295.19 505.82,294.66 506.46,294.12 507.10,293.58 507.73,293.02 508.37,292.47 509.00,291.90 509.64,291.33 510.28,290.75 510.91,290.16 511.55,289.56 512.19,288.95 512.82,288.33 513.46,287.69 514.09,287.05 514.73,286.40 515.37,285.74 516.00,285.07 516.64,284.39 517.27,283.70 517.48,219.96 536.85,219.96" fill="none" stroke="#0072B2" stroke-width="1.40" stroke-linejoin="round" />
<polyline points="327.10,238.67 327.74,238.82 328.37,238.97 329.01,239.13 329.64,239.29 330.28,239.45 330.92,239.61 331.55,239.77 332.19,239.94 332.82,240.10 333.46,240.27 334.10,240.44 334.73,240.62 335.37,240.79 336.00,240.97 336.64,241.14 337.28,241.32 337.91,241.50 338.55,241.69 339.18,241.87 339.82,242.06 340.46,242.24 341.09,242.43 341.73,242.62 342.36,242.82 343.00,243.01 343.64,243.21 344.27,243.40 344.91,243.60 345.54,243.80 346.18,244.00 346.82,244.21 347.45,244.41 348.09,244.62 348.73,244.83 349.36,245.04 350.00,245.25 350.63,245.46 351.27,245.68 351.91,245.89 352.54,246.11 353.18,246.33 353.81,246.55 354.45,246.77 355.09,247.00 355.72,247.22 356.36,247.45 356.99,247.68 357.63,247.91 358.27,248.14 358.90,248.37 359.54,248.60 360.17,248.84 360.81,249.08 361.45,249.32 362.08,249.56 362.72,249.80 363.35,250.04 363.99,250.28 364.63,250.53 365.26,250.78 365.90,251.03 366.53,251.28 367.17,251.53 367.81,251.78 368.44,252.04 369.08,252.29 369.71,252.55 370.35,252.81 370.99,253.07 371.62,253.33 372.26,253.59 372.89,253.86 373.53,254.12 374.17,254.39 374.80,254.66 375.44,254.93 376.07,255.20 376.71,255.47 377.35,255.75 377.98,256.02 378.62,256.30 379.25,256.58 379.89,256.86 380.53,257.14 381.16,257.42 381.80,257.71 382.43,257.99 383.07,258.28 383.71,258.57 384.34,258.86 384.98,259.15 385.61,259.44 386.25,259.74 386.89,260.03 387.52,260.33 388.16,260.63 388.80,260.93 389.43,261.23 390.07,261.54 390.70,261.84 391.34,262.15 391.98,262.45 392.61,262.76 393.25,263.07 393.88,263.38 394.52,263.70 395.16,264.01 395.79,264.33 396.43,264.65 397.06,264.97 397.70,265.29 398.34,265.61 398.97,265.93 399.61,266.26 400.24,266.58 400.88,266.91 401.52,267.24 402.15,267.57 402.79,267.91 403.42,268.24 404.06,268.58 404.70,268.92 405.33,269.25 405.97,269.60 406.60,269.94 407.24,270.28 407.88,270.63 408.51,270.97 409.15,271.32 409.78,271.67 410.42,272.03 411.06,272.38 411.69,272.73 412.33,273.09 412.96,273.45 413.60,273.81 414.24,274.17 414.87,274.53 415.51,274.90 416.14,275.27 416.78,275.64 417.42,276.01 418.05,276.38 418.69,276.75 419.32,277.13 419.96,277.50 420.60,277.88 421.23,278.26 421.87,278.65 422.50,279.03 423.14,279.42 423.78,279.80 424.41,280.19 425.05,280.59 425.68,280.98 426.32,281.38 426.96,281.77 427.59,282.17 428.23,282.57 428.86,282.98 429.50,283.38 430.14,283.79 430.77,284.20 431.41,284.61 432.05,285.02 432.68,285.43 433.32,285.85 433.95,286.27 434.59,286.69 435.23,287.11 435.86,287.54 436.50,287.96 437.13,288.39 437.77,288.82 438.41,289.26 439.04,289.69 439.68,290.13 440.31,290.57 440.95,291.01 441.59,291.45 442.22,291.90 442.86,292.35 443.49,292.80 444.13,293.25 444.77,293.70 445.40,294.16 446.04,294.62 446.67,295.08 447.31,295.54 447.95,296.01 448.58,296.48 449.22,296.95 449.85,297.42 450.49,297.90 451.13,298.38 451.76,298.86 452.40,299.34 453.03,299.83 453.67,300.31 454.31,300.80 454.94,301.30 455.58,301.79 456.21,302.29 456.85,302.79 457.49,303.29 458.12,303.80 458.76,304.31 459.39,304.82 460.03,305.33 460.67,305.85 461.30,306.37 461.94,306.89 462.57,307.41 463.21,307.94 463.85,308.47 464.48,309.00 465.12,309.54 465.75,310.08 466.39,310.62 467.03,311.16 467.66,311.71 468.30,312.26 468.93,312.81 469.57,313.37 470.21,313.56 470.84,313.27 471.48,312.98 472.12,312.69 472.75,312.40 473.39,312.10 474.02,311.81 474.66,311.51 475.30,311.21 475.93,310.91 476.57,310.61 477.20,310.30 477.84,309.99 478.48,309.68 479.11,309.36 479.75,309.04 480.38,308.72 481.02,308.39 481.66,308.05 482.29,307.71 482.93,307.36 483.56,307.01 484.20,306.65 484.84,306.29 485.47,305.92 486.11,305.55 486.74,305.18 487.38,304.80 488.02,304.41 488.65,304.02 489.29,303.63 489.92,303.23 490.56,302.83 491.20,302.43 491.83,302.01 492.47,301.60 493.10,301.18 493.74,300.76 494.38,300.33 495.01,299.90 495.65,299.46 496.28,299.02 496.92,298.58 497.56,298.13 498.19,297.68 498.83,297.23 499.46,296.77 500.10,296.30 500.74,295.84 501.37,295.36 502.01,294.88 502.64,294.39 503.28,293.89 503.92,293.38 504.55,292.87 505.19,292.35 505.82,291.82 506.46,291.28 507.10,290.74 507.73,290.18 508.37,289.63 509.00,289.06 509.64,288.49 510.28,287.91 510.91,287.32 511.55,286.72 512.19,286.11 512.82,285.49 513.46,284.85 514.09,284.21 514.73,283.56 515.37,282.90 516.00,282.22 516.64,281.55 517.27,280.86 517.48,217.07 536.85,217.07" fill="none" stroke="#E51E10" stroke-width="1.40" stroke-linejoin="round" />
<polyline points="327.10,240.21 327.74,240.49 328.37,240.76 329.01,241.03 329.64,241.30 330.28,241.58 330.92,241.85 331.55,242.12 332.19,242.40 332.82,242.67 333.46,242.94 334.10,243.22 334.73,243.49 335.37,243.76 336.00,244.04 336.64,244.31 337.28,244.58 337.91,244.86 338.55,245.13 339.18,245.41 339.82,245.68 340.46,245.96 341.09,246.24 341.73,246.51 342.36,246.79 343.00,247.07 343.64,247.34 344.27,247.62 344.91,247.90 345.54,248.18 346.18,248.46 346.82,248.74 347.45,249.02 348.09,249.30 348.73,249.58 349.36,249.86 350.00,250.14 350.63,250.42 351.27,250.70 351.91,250.99 352.54,251.27 353.18,251.56 353.81,251.84 354.45,252.13 355.09,252.41 355.72,252.70 356.36,252.99 356.99,253.28 357.63,253.57 358.27,253.86 358.90,254.15 359.54,254.44 360.17,254.73 360.81,255.02 361.45,255.32 362.08,255.61 362.72,255.91 363.35,256.20 363.99,256.50 364.63,256.80 365.26,257.10 365.90,257.40 366.53,257.70 367.17,258.00 367.81,258.30 368.44,258.61 369.08,258.91 369.71,259.22 370.35,259.53 370.99,259.83 371.62,260.14 372.26,260.45 372.89,260.76 373.53,261.08 374.17,261.39 374.80,261.70 375.44,262.02 376.07,262.34 376.71,262.66 377.35,262.97 377.98,263.30 378.62,263.62 379.25,263.94 379.89,264.27 380.53,264.59 381.16,264.92 381.80,265.25 382.43,265.58 383.07,265.91 383.71,266.24 384.34,266.58 384.98,266.91 385.61,267.25 386.25,267.59 386.89,267.93 387.52,268.27 388.16,268.61 388.80,268.96 389.43,269.30 390.07,269.65 390.70,270.00 391.34,270.35 391.98,270.70 392.61,271.06 393.25,271.41 393.88,271.77 394.52,272.13 395.16,272.49 395.79,272.86 396.43,273.22 397.06,273.59 397.70,273.96 398.34,274.33 398.97,274.70 399.61,275.07 400.24,275.45 400.88,275.83 401.52,276.21 402.15,276.59 402.79,276.97 403.42,277.36 404.06,277.74 404.70,278.13 405.33,278.52 405.97,278.92 406.60,279.31 407.24,279.71 407.88,280.11 408.51,280.51 409.15,280.92 409.78,281.32 410.42,281.73 411.06,282.14 411.69,282.56 412.33,282.97 412.96,283.39 413.60,283.81 414.24,284.23 414.87,284.66 415.51,285.08 416.14,285.51 416.78,285.94 417.42,286.38 418.05,286.81 418.69,287.25 419.32,287.69 419.96,288.14 420.60,288.58 421.23,289.03 421.87,289.48 422.50,289.94 423.14,290.40 423.78,290.85 424.41,291.32 425.05,291.78 425.68,292.25 426.32,292.72 426.96,293.19 427.59,293.67 428.23,294.14 428.86,294.62 429.50,295.11 430.14,295.59 430.77,296.08 431.41,296.58 432.05,297.07 432.68,297.57 433.32,298.07 433.95,298.57 434.59,299.08 435.23,299.59 435.86,300.10 436.50,300.62 437.13,301.14 437.77,301.66 438.41,302.18 439.04,302.71 439.68,303.24 440.31,303.78 440.95,304.32 441.59,304.86 442.22,305.40 442.86,305.95 443.49,306.50 444.13,307.05 444.77,307.61 445.40,308.17 446.04,308.73 446.67,309.30 447.31,309.87 447.95,310.44 448.58,311.02 449.22,311.60 449.85,312.19 450.49,312.77 451.13,313.36 451.76,313.96 452.40,314.56 453.03,315.16 453.67,315.77 454.31,316.37 454.94,316.99 455.58,317.44 456.21,317.15 456.85,316.86 457.49,316.57 458.12,316.28 458.76,316.00 459.39,315.71 460.03,315.42 460.67,315.13 461.30,314.84 461.94,314.54 462.57,314.25 463.21,313.96 463.85,313.67 464.48,313.37 465.12,313.07 465.75,312.78 466.39,312.48 467.03,312.18 467.66,311.89 468.30,311.60 468.93,311.30 469.57,311.01 470.21,310.72 470.84,310.43 471.48,310.14 472.12,309.85 472.75,309.56 473.39,309.26 474.02,308.97 474.66,308.67 475.30,308.37 475.93,308.07 476.57,307.77 477.20,307.46 477.84,307.15 478.48,306.84 479.11,306.52 479.75,306.20 480.38,305.88 481.02,305.55 481.66,305.21 482.29,304.87 482.93,304.52 483.56,304.17 484.20,303.81 484.84,303.45 485.47,303.08 486.11,302.71 486.74,302.34 487.38,301.96 488.02,301.57 488.65,301.18 489.29,300.79 489.92,300.39 490.56,299.99 491.20,299.58 491.83,299.17 492.47,298.76 493.10,298.34 493.74,297.92 494.38,297.49 495.01,297.06 495.65,296.62 496.28,296.18 496.92,295.74 497.56,295.29 498.19,294.84 498.83,294.39 499.46,293.93 500.10,293.46 500.74,293.00 501.37,292.52 502.01,292.04 502.64,291.55 503.28,291.05 503.92,290.54 504.55,290.03 505.19,289.51 505.82,288.98 506.46,288.44 507.10,287.89 507.73,287.34 508.37,286.79 509.00,286.22 509.64,285.65 510.28,285.07 510.91,284.48 511.55,283.88 512.19,283.27 512.82,282.65 513.46,282.01 514.09,281.37 514.73,280.72 515.37,280.05 516.00,279.38 516.64,278.71 517.27,278.02 517.48,214.17 536.85,214.17" fill="none" stroke="#000000" stroke-width="1.40" stroke-linejoin="round" />
<polyline points="327.10,243.98 327.74,244.37 328.37,244.75 329.01,245.12 329.64,245.50 330.28,245.86 330.92,246.23 331.55,246.59 332.19,246.95 332.82,247.30 333.46,247.65 334.10,248.00 334.73,248.34 335.37,248.68 336.00,249.02 336.64,249.36 337.28,249.69 337.91,250.02 338.55,250.35 339.18,250.68 339.82,251.00 340.46,251.33 341.09,251.65 341.73,251.97 342.36,252.29 343.00,252.61 343.64,252.93 344.27,253.25 344.91,253.57 345.54,253.88 346.18,254.20 346.82,254.51 347.45,254.83 348.09,255.15 348.73,255.46 349.36,255.78 350.00,256.09 350.63,256.41 351.27,256.73 351.91,257.04 352.54,257.36 353.18,257.68 353.81,258.00 354.45,258.32 355.09,258.64 355.72,258.97 356.36,259.29 356.99,259.62 357.63,259.95 358.27,260.27 358.90,260.60 359.54,260.94 360.17,261.27 360.81,261.61 361.45,261.94 362.08,262.28 362.72,262.63 363.35,262.97 363.99,263.32 364.63,263.67 365.26,264.02 365.90,264.37 366.53,264.73 367.17,265.08 367.81,265.44 368.44,265.81 369.08,266.17 369.71,266.54 370.35,266.91 370.99,267.29 371.62,267.67 372.26,268.05 372.89,268.43 373.53,268.81 374.17,269.20 374.80,269.59 375.44,269.99 376.07,270.39 376.71,270.79 377.35,271.19 377.98,271.60 378.62,272.01 379.25,272.42 379.89,272.84 380.53,273.26 381.16,273.68 381.80,274.11 382.43,274.54 383.07,274.97 383.71,275.41 384.34,275.84 384.98,276.29 385.61,276.73 386.25,277.18 386.89,277.63 387.52,278.09 388.16,278.54 388.80,279.01 389.43,279.47 390.07,279.94 390.70,280.41 391.34,280.88 391.98,281.36 392.61,281.84 393.25,282.32 393.88,282.80 394.52,283.29 395.16,283.78 395.79,284.28 396.43,284.77 397.06,285.27 397.70,285.77 398.34,286.28 398.97,286.78 399.61,287.29 400.24,287.81 400.88,288.32 401.52,288.84 402.15,289.36 402.79,289.88 403.42,290.40 404.06,290.93 404.70,291.45 405.33,291.98 405.97,292.52 406.60,293.05 407.24,293.58 407.88,294.12 408.51,294.66 409.15,295.20 409.78,295.74 410.42,296.28 411.06,296.83 411.69,297.37 412.33,297.92 412.96,298.47 413.60,299.01 414.24,299.56 414.87,300.11 415.51,300.66 416.14,301.21 416.78,301.76 417.42,302.31 418.05,302.86 418.69,303.41 419.32,303.97 419.96,304.52 420.60,305.07 421.23,305.62 421.87,306.17 422.50,306.71 423.14,307.26 423.78,307.81 424.41,308.35 425.05,308.90 425.68,309.44 426.32,309.98 426.96,310.52 427.59,311.06 428.23,311.60 428.86,312.13 429.50,312.66 430.14,313.19 430.77,313.72 431.41,314.24 432.05,314.76 432.68,315.28 433.32,315.80 433.95,316.31 434.59,316.81 435.23,317.32 435.86,317.82 436.50,318.32 437.13,318.81 437.77,319.29 438.41,319.78 439.04,320.26 439.68,320.73 440.31,321.20 440.95,321.50 441.59,321.19 442.22,320.88 442.86,320.56 443.49,320.25 444.13,319.94 444.77,319.63 445.40,319.32 446.04,319.01 446.67,318.70 447.31,318.40 447.95,318.10 448.58,317.80 449.22,317.50 449.85,317.21 450.49,316.92 451.13,316.63 451.76,316.33 452.40,316.04 453.03,315.75 453.67,315.46 454.31,315.18 454.94,314.89 455.58,314.60 456.21,314.31 456.85,314.02 457.49,313.73 458.12,313.44 458.76,313.16 459.39,312.87 460.03,312.58 460.67,312.29 461.30,312.00 461.94,311.70 462.57,311.41 463.21,311.12 463.85,310.83 464.48,310.53 465.12,310.23 465.75,309.94 466.39,309.64 467.03,309.34 467.66,309.05 468.30,308.76 468.93,308.46 469.57,308.17 470.21,307.88 470.84,307.59 471.48,307.30 472.12,307.01 472.75,306.72 473.39,306.42 474.02,306.13 474.66,305.83 475.30,305.53 475.93,305.23 476.57,304.93 477.20,304.62 477.84,304.31 478.48,304.00 479.11,303.68 479.75,303.36 480.38,303.04 481.02,302.71 481.66,302.37 482.29,302.03 482.93,301.68 483.56,301.33 484.20,300.97 484.84,300.61 485.47,300.24 486.11,299.87 486.74,299.50 487.38,299.12 488.02,298.73 488.65,298.34 489.29,297.95 489.92,297.55 490.56,297.15 491.20,296.74 491.83,296.33 492.47,295.92 493.10,295.50 493.74,295.08 494.38,294.65 495.01,294.22 495.65,293.78 496.28,293.34 496.92,292.90 497.56,292.45 498.19,292.00 498.83,291.55 499.46,291.09 500.10,290.62 500.74,290.16 501.37,289.68 502.01,289.20 502.64,288.71 503.28,288.21 503.92,287.70 504.55,287.19 505.19,286.66 505.82,286.14 506.46,285.60 507.10,285.05 507.73,284.50 508.37,283.95 509.00,283.38 509.64,282.81 510.28,282.23 510.91,281.64 511.55,281.04 512.19,280.43 512.82,279.81 513.46,279.17 514.09,278.53 514.73,277.88 515.37,277.21 516.00,276.54 516.64,275.87 517.27,275.18 517.48,211.28 536.85,211.28" fill="none" stroke="#9400D3" stroke-width="1.40" stroke-linejoin="round" />
<polyline points="327.10,249.02 327.74,249.41 328.37,249.81 329.01,250.21 329.64,250.61 330.28,251.01 330.92,251.41 331.55,251.81 332.19,252.21 332.82,252.61 333.46,253.01 334.10,253.42 334.73,253.82 335.37,254.22 336.00,254.63 336.64,255.04 337.28,255.44 337.91,255.85 338.55,256.26 339.18,256.67 339.82,257.08 340.46,257.49 341.09,257.90 341.73,258.32 342.36,258.73 343.00,259.14 343.64,259.56 344.27,259.98 344.91,260.39 345.54,260.81 346.18,261.23 346.82,261.65 347.45,262.07 348.09,262.50 348.73,262.92 349.36,263.34 350.00,263.77 350.63,264.19 351.27,264.62 351.91,265.05 352.54,265.48 353.18,265.91 353.81,266.34 354.45,266.77 355.09,267.21 355.72,267.64 356.36,268.08 356.99,268.51 357.63,268.95 358.27,269.39 358.90,269.83 359.54,270.27 360.17,270.72 360.81,271.16 361.45,271.60 362.08,272.05 362.72,272.50 363.35,272.95 363.99,273.40 364.63,273.85 365.26,274.30 365.90,274.76 366.53,275.21 367.17,275.67 367.81,276.12 368.44,276.58 369.08,277.04 369.71,277.51 370.35,277.97 370.99,278.43 371.62,278.90 372.26,279.37 372.89,279.84 373.53,280.31 374.17,280.78 374.80,281.25 375.44,281.73 376.07,282.20 376.71,282.68 377.35,283.16 377.98,283.64 378.62,284.12 379.25,284.60 379.89,285.09 380.53,285.57 381.16,286.06 381.80,286.55 382.43,287.04 383.07,287.54 383.71,288.03 384.34,288.53 384.98,289.02 385.61,289.52 386.25,290.02 386.89,290.53 387.52,291.03 388.16,291.54 388.80,292.04 389.43,292.55 390.07,293.06 390.70,293.58 391.34,294.09 391.98,294.61 392.61,295.13 393.25,295.64 393.88,296.17 394.52,296.69 395.16,297.21 395.79,297.74 396.43,298.27 397.06,298.80 397.70,299.33 398.34,299.87 398.97,300.40 399.61,300.94 400.24,301.48 400.88,302.02 401.52,302.56 402.15,303.11 402.79,303.66 403.42,304.21 404.06,304.76 404.70,305.31 405.33,305.87 405.97,306.42 406.60,306.98 407.24,307.54 407.88,308.11 408.51,308.67 409.15,309.24 409.78,309.81 410.42,310.38 411.06,310.95 411.69,311.53 412.33,312.11 412.96,312.69 413.60,313.27 414.24,313.85 414.87,314.44 415.51,315.03 416.14,315.62 416.78,316.21 417.42,316.80 418.05,317.40 418.69,318.00 419.32,318.60 419.96,319.21 420.60,319.81 421.23,320.42 421.87,321.03 422.50,321.64 423.14,322.26 423.78,322.88 424.41,323.49 425.05,324.12 425.68,324.74 426.32,324.83 426.96,324.61 427.59,324.38 428.23,324.15 428.86,323.92 429.50,323.68 430.14,323.44 430.77,323.20 431.41,322.95 432.05,322.70 432.68,322.44 433.32,322.18 433.95,321.91 434.59,321.64 435.23,321.36 435.86,321.07 436.50,320.78 437.13,320.49 437.77,320.19 438.41,319.89 439.04,319.58 439.68,319.28 440.31,318.97 440.95,318.66 441.59,318.35 442.22,318.04 442.86,317.72 443.49,317.41 444.13,317.10 444.77,316.79 445.40,316.48 446.04,316.17 446.67,315.86 447.31,315.56 447.95,315.26 448.58,314.96 449.22,314.66 449.85,314.37 450.49,314.08 451.13,313.79 451.76,313.49 452.40,313.20 453.03,312.91 453.67,312.62 454.31,312.34 454.94,312.05 455.58,311.76 456.21,311.47 456.85,311.18 457.49,310.89 458.12,310.60 458.76,310.32 459.39,310.03 460.03,309.74 460.67,309.45 461.30,309.16 461.94,308.86 462.57,308.57 463.21,308.28 463.85,307.98 464.48,307.69 465.12,307.39 465.75,307.10 466.39,306.80 467.03,306.50 467.66,306.21 468.30,305.92 468.93,305.62 469.57,305.33 470.21,305.04 470.84,304.75 471.48,304.46 472.12,304.17 472.75,303.88 473.39,303.58 474.02,303.29 474.66,302.99 475.30,302.69 475.93,302.39 476.57,302.09 477.20,301.78 477.84,301.47 478.48,301.16 479.11,300.84 479.75,300.52 480.38,300.20 481.02,299.86 481.66,299.53 482.29,299.19 482.93,298.84 483.56,298.49 484.20,298.13 484.84,297.77 485.47,297.40 486.11,297.03 486.74,296.66 487.38,296.28 488.02,295.89 488.65,295.50 489.29,295.11 489.92,294.71 490.56,294.31 491.20,293.90 491.83,293.49 492.47,293.08 493.10,292.66 493.74,292.24 494.38,291.81 495.01,291.38 495.65,290.94 496.28,290.50 496.92,290.06 497.56,289.61 498.19,289.16 498.83,288.70 499.46,288.25 500.10,287.78 500.74,287.32 501.37,286.84 502.01,286.36 502.64,285.87 503.28,285.37 503.92,284.86 504.55,284.35 505.19,283.82 505.82,283.30 506.46,282.76 507.10,282.21 507.73,281.66 508.37,281.10 509.00,280.54 509.64,279.97 510.28,279.39 510.91,278.80 511.55,278.20 512.19,277.59 512.82,276.97 513.46,276.33 514.09,275.69 514.73,275.04 515.37,274.37 516.00,273.70 516.64,273.03 517.27,272.34 517.48,208.38 536.85,208.38" fill="none" stroke="#009E73" stroke-width="1.40" stroke-linejoin="round" />
</g>
<text x="328.40" y="362.55" text-anchor="middle">195</text>
<path d="M362.06 348.00V343.80M362.06 200.45V204.65" stroke="#000" stroke-width="1"/>
<text x="363.36" y="362.55" text-anchor="middle">200</text>
<path d="M397.02 348.00V343.80M397.02 200.45V204.65" stroke="#000" stroke-width="1"/>
<text x="398.32" y="362.55" text-anchor="middle">205</text>
<path d="M431.98 348.00V343.80M431.98 200.45V204.65" stroke="#000" stroke-width="1"/>
<text x="433.28" y="362.55" text-anchor="middle">210</text>
<path d="M466.93 348.00V343.80M466.93 200.45V204.65" stroke="#000" stroke-width="1"/>
<text x="468.23" y="362.55" text-anchor="middle">215</text>
<path d="M501.89 348.00V343.80M501.89 200.45V204.65" stroke="#000" stroke-width="1"/>
<text x="503.19" y="362.55" text-anchor="middle">220</text>
<text x="538.15" y="362.55" text-anchor="middle">225</text>
<text x="320.50" y="351.30" text-anchor="end">-15</text>
<path d="M327.10 311.11H331.30M536.85 311.11H532.65" stroke="#000" stroke-width="1"/>
<text x="320.50" y="314.41" text-anchor="end">-10</text>
<path d="M327.10 274.23H331.30M536.85 274.23H532.65" stroke="#000" stroke-width="1"/>
<text x="320.50" y="277.53" text-anchor="end">-5</text>
<path d="M327.10 237.34H331.30M536.85 237.34H532.65" stroke="#000" stroke-width="1"/>
<text x="320.50" y="240.64" text-anchor="end">0</text>
<text x="320.50" y="203.75" text-anchor="end">5</text>
<rect x="327.10" y="200.45" width="209.75" height="147.55" fill="none" stroke="#000" stroke-width="1.2"/>
<text x="348.2" y="337.5">(d)</text>
<text x="334.2" y="315.2">0.50 GPa</text>
<text x="467" y="226.3">0.05 GPa</text>
<text transform="translate(293.45,294.90) rotate(-90)"><tspan textLength="6.1" lengthAdjust="spacingAndGlyphs">Δ</tspan>T<tspan font-size="8.8" dy="3">AD</tspan><tspan dy="-3" dx="-0.2"> (K)</tspan></text>
<text x="431.8" y="378.7" text-anchor="middle">T (K)</text>
</svg>
</body></html>
